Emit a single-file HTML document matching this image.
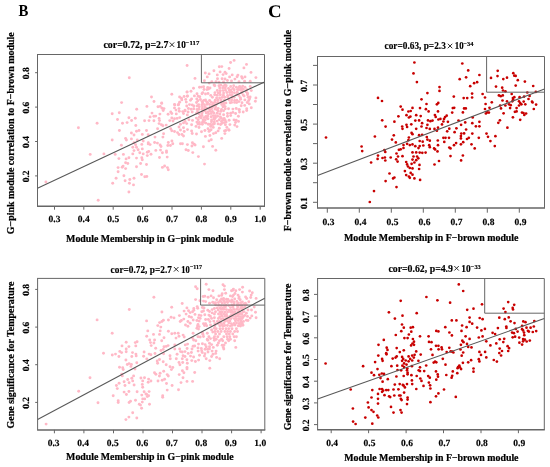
<!DOCTYPE html><html><head><meta charset="utf-8"><style>html,body{margin:0;padding:0;background:#fff;width:550px;height:467px;overflow:hidden}svg{display:block;will-change:transform}text{font-family:"Liberation Serif", serif;font-weight:bold;fill:#000}</style></head><body>
<svg xmlns="http://www.w3.org/2000/svg" width="550" height="467" viewBox="0 0 550 467">
<rect width="550" height="467" fill="#fff"/>
<text transform="translate(18.5 16.2) scale(0.87 1)" font-size="17">B</text>
<text text-rendering="geometricPrecision" transform="translate(267.9 16.6) scale(1.06 1)" font-size="17.8">C</text>
<g fill="#ffb8c6"><circle cx="129.3" cy="77.7" r="1.45"/><circle cx="121.6" cy="102.6" r="1.45"/><circle cx="136.7" cy="109.2" r="1.45"/><circle cx="112.2" cy="113.7" r="1.45"/><circle cx="119.3" cy="112.8" r="1.45"/><circle cx="117.5" cy="119.5" r="1.45"/><circle cx="128.9" cy="117.7" r="1.45"/><circle cx="131.6" cy="120.5" r="1.45"/><circle cx="135.3" cy="118.3" r="1.45"/><circle cx="122.5" cy="123.2" r="1.45"/><circle cx="127.1" cy="122.6" r="1.45"/><circle cx="135.8" cy="125.5" r="1.45"/><circle cx="97.1" cy="123.2" r="1.45"/><circle cx="78.4" cy="127.7" r="1.45"/><circle cx="90.2" cy="154.4" r="1.45"/><circle cx="45.9" cy="182.0" r="1.45"/><circle cx="98.2" cy="200.2" r="1.45"/><circle cx="119.4" cy="130.5" r="1.45"/><circle cx="131.4" cy="133.0" r="1.45"/><circle cx="134.0" cy="135.0" r="1.45"/><circle cx="136.5" cy="131.3" r="1.45"/><circle cx="139.0" cy="130.5" r="1.45"/><circle cx="142.3" cy="134.4" r="1.45"/><circle cx="146.5" cy="130.5" r="1.45"/><circle cx="148.2" cy="134.7" r="1.45"/><circle cx="112.2" cy="140.0" r="1.45"/><circle cx="125.6" cy="138.4" r="1.45"/><circle cx="126.4" cy="140.0" r="1.45"/><circle cx="131.4" cy="138.9" r="1.45"/><circle cx="137.3" cy="140.0" r="1.45"/><circle cx="143.2" cy="141.0" r="1.45"/><circle cx="121.4" cy="145.2" r="1.45"/><circle cx="134.0" cy="142.7" r="1.45"/><circle cx="135.6" cy="144.7" r="1.45"/><circle cx="141.8" cy="144.4" r="1.45"/><circle cx="148.2" cy="143.9" r="1.45"/><circle cx="132.8" cy="147.2" r="1.45"/><circle cx="136.5" cy="147.2" r="1.45"/><circle cx="134.0" cy="150.6" r="1.45"/><circle cx="138.1" cy="149.7" r="1.45"/><circle cx="142.3" cy="148.9" r="1.45"/><circle cx="103.9" cy="153.9" r="1.45"/><circle cx="115.2" cy="154.4" r="1.45"/><circle cx="123.4" cy="154.4" r="1.45"/><circle cx="132.8" cy="153.9" r="1.45"/><circle cx="139.8" cy="152.7" r="1.45"/><circle cx="143.2" cy="153.9" r="1.45"/><circle cx="147.3" cy="152.2" r="1.45"/><circle cx="118.9" cy="158.6" r="1.45"/><circle cx="126.1" cy="158.9" r="1.45"/><circle cx="128.9" cy="157.8" r="1.45"/><circle cx="136.5" cy="158.1" r="1.45"/><circle cx="141.8" cy="157.8" r="1.45"/><circle cx="142.3" cy="159.8" r="1.45"/><circle cx="147.3" cy="155.6" r="1.45"/><circle cx="125.6" cy="162.8" r="1.45"/><circle cx="127.8" cy="163.5" r="1.45"/><circle cx="140.6" cy="163.5" r="1.45"/><circle cx="146.5" cy="164.5" r="1.45"/><circle cx="118.1" cy="167.6" r="1.45"/><circle cx="122.2" cy="167.3" r="1.45"/><circle cx="123.1" cy="166.1" r="1.45"/><circle cx="125.6" cy="168.6" r="1.45"/><circle cx="136.5" cy="166.8" r="1.45"/><circle cx="118.1" cy="171.8" r="1.45"/><circle cx="123.9" cy="175.7" r="1.45"/><circle cx="141.5" cy="174.5" r="1.45"/><circle cx="144.8" cy="176.8" r="1.45"/><circle cx="146.8" cy="176.5" r="1.45"/><circle cx="116.1" cy="178.2" r="1.45"/><circle cx="129.8" cy="179.5" r="1.45"/><circle cx="134.0" cy="178.2" r="1.45"/><circle cx="125.1" cy="180.7" r="1.45"/><circle cx="112.7" cy="183.2" r="1.45"/><circle cx="129.4" cy="183.2" r="1.45"/><circle cx="133.5" cy="184.9" r="1.45"/><circle cx="128.9" cy="192.0" r="1.45"/><circle cx="187.1" cy="65.5" r="1.45"/><circle cx="151.5" cy="97.0" r="1.45"/><circle cx="154.0" cy="101.5" r="1.45"/><circle cx="161.7" cy="102.9" r="1.45"/><circle cx="171.8" cy="94.3" r="1.45"/><circle cx="179.6" cy="97.0" r="1.45"/><circle cx="181.5" cy="98.3" r="1.45"/><circle cx="184.1" cy="96.5" r="1.45"/><circle cx="187.1" cy="91.9" r="1.45"/><circle cx="187.3" cy="96.2" r="1.45"/><circle cx="181.8" cy="99.9" r="1.45"/><circle cx="185.7" cy="99.4" r="1.45"/><circle cx="179.6" cy="102.3" r="1.45"/><circle cx="186.3" cy="102.1" r="1.45"/><circle cx="174.5" cy="104.4" r="1.45"/><circle cx="178.6" cy="104.4" r="1.45"/><circle cx="195.0" cy="78.4" r="1.45"/><circle cx="205.3" cy="73.0" r="1.45"/><circle cx="209.1" cy="73.9" r="1.45"/><circle cx="207.3" cy="76.9" r="1.45"/><circle cx="213.9" cy="70.7" r="1.45"/><circle cx="219.3" cy="66.8" r="1.45"/><circle cx="221.8" cy="66.6" r="1.45"/><circle cx="220.1" cy="71.9" r="1.45"/><circle cx="225.0" cy="72.2" r="1.45"/><circle cx="217.3" cy="74.9" r="1.45"/><circle cx="223.1" cy="74.6" r="1.45"/><circle cx="217.5" cy="78.8" r="1.45"/><circle cx="222.1" cy="78.8" r="1.45"/><circle cx="225.0" cy="79.0" r="1.45"/><circle cx="204.4" cy="80.8" r="1.45"/><circle cx="211.8" cy="81.6" r="1.45"/><circle cx="216.0" cy="81.6" r="1.45"/><circle cx="219.0" cy="82.1" r="1.45"/><circle cx="223.5" cy="82.0" r="1.45"/><circle cx="209.2" cy="83.1" r="1.45"/><circle cx="214.1" cy="85.0" r="1.45"/><circle cx="214.8" cy="85.7" r="1.45"/><circle cx="193.5" cy="88.3" r="1.45"/><circle cx="199.5" cy="87.2" r="1.45"/><circle cx="201.4" cy="87.1" r="1.45"/><circle cx="203.6" cy="86.8" r="1.45"/><circle cx="207.7" cy="87.4" r="1.45"/><circle cx="210.0" cy="88.0" r="1.45"/><circle cx="208.5" cy="89.1" r="1.45"/><circle cx="219.0" cy="85.7" r="1.45"/><circle cx="220.8" cy="85.3" r="1.45"/><circle cx="223.5" cy="86.1" r="1.45"/><circle cx="225.0" cy="85.0" r="1.45"/><circle cx="219.7" cy="88.0" r="1.45"/><circle cx="222.7" cy="88.0" r="1.45"/><circle cx="225.3" cy="88.0" r="1.45"/><circle cx="204.0" cy="89.5" r="1.45"/><circle cx="230.6" cy="62.5" r="1.45"/><circle cx="234.1" cy="60.4" r="1.45"/><circle cx="246.5" cy="64.4" r="1.45"/><circle cx="229.1" cy="68.5" r="1.45"/><circle cx="243.9" cy="67.9" r="1.45"/><circle cx="251.0" cy="72.4" r="1.45"/><circle cx="226.2" cy="73.6" r="1.45"/><circle cx="232.2" cy="74.9" r="1.45"/><circle cx="237.9" cy="75.1" r="1.45"/><circle cx="229.6" cy="76.9" r="1.45"/><circle cx="237.1" cy="76.7" r="1.45"/><circle cx="241.6" cy="76.7" r="1.45"/><circle cx="245.0" cy="76.9" r="1.45"/><circle cx="255.9" cy="77.6" r="1.45"/><circle cx="242.4" cy="78.2" r="1.45"/><circle cx="234.9" cy="79.1" r="1.45"/><circle cx="227.4" cy="80.5" r="1.45"/><circle cx="231.5" cy="80.9" r="1.45"/><circle cx="239.0" cy="81.8" r="1.45"/><circle cx="244.6" cy="81.2" r="1.45"/><circle cx="250.2" cy="81.2" r="1.45"/><circle cx="226.2" cy="85.7" r="1.45"/><circle cx="230.7" cy="86.5" r="1.45"/><circle cx="233.7" cy="85.7" r="1.45"/><circle cx="236.4" cy="87.2" r="1.45"/><circle cx="239.7" cy="86.5" r="1.45"/><circle cx="242.7" cy="86.1" r="1.45"/><circle cx="245.0" cy="87.2" r="1.45"/><circle cx="250.2" cy="86.5" r="1.45"/><circle cx="228.5" cy="88.4" r="1.45"/><circle cx="233.0" cy="88.4" r="1.45"/><circle cx="241.2" cy="88.7" r="1.45"/><circle cx="146.9" cy="106.4" r="1.45"/><circle cx="158.0" cy="106.7" r="1.45"/><circle cx="160.2" cy="106.4" r="1.45"/><circle cx="162.1" cy="108.2" r="1.45"/><circle cx="164.0" cy="108.6" r="1.45"/><circle cx="163.2" cy="110.5" r="1.45"/><circle cx="161.7" cy="103.4" r="1.45"/><circle cx="174.8" cy="104.9" r="1.45"/><circle cx="178.2" cy="104.9" r="1.45"/><circle cx="174.5" cy="107.9" r="1.45"/><circle cx="179.0" cy="108.6" r="1.45"/><circle cx="176.0" cy="110.1" r="1.45"/><circle cx="179.3" cy="111.2" r="1.45"/><circle cx="182.7" cy="111.6" r="1.45"/><circle cx="185.0" cy="110.1" r="1.45"/><circle cx="170.7" cy="112.0" r="1.45"/><circle cx="171.8" cy="113.5" r="1.45"/><circle cx="168.1" cy="114.2" r="1.45"/><circle cx="176.3" cy="113.9" r="1.45"/><circle cx="183.5" cy="113.5" r="1.45"/><circle cx="152.0" cy="113.1" r="1.45"/><circle cx="159.9" cy="114.1" r="1.45"/><circle cx="150.1" cy="116.9" r="1.45"/><circle cx="153.9" cy="116.3" r="1.45"/><circle cx="155.7" cy="116.1" r="1.45"/><circle cx="159.1" cy="118.4" r="1.45"/><circle cx="171.8" cy="118.0" r="1.45"/><circle cx="174.5" cy="118.7" r="1.45"/><circle cx="177.1" cy="118.4" r="1.45"/><circle cx="179.7" cy="117.6" r="1.45"/><circle cx="149.0" cy="120.6" r="1.45"/><circle cx="153.9" cy="120.8" r="1.45"/><circle cx="159.5" cy="120.6" r="1.45"/><circle cx="169.8" cy="120.6" r="1.45"/><circle cx="159.1" cy="123.6" r="1.45"/><circle cx="161.4" cy="124.7" r="1.45"/><circle cx="162.9" cy="125.8" r="1.45"/><circle cx="166.2" cy="125.1" r="1.45"/><circle cx="173.0" cy="121.0" r="1.45"/><circle cx="180.5" cy="124.3" r="1.45"/><circle cx="183.5" cy="122.9" r="1.45"/><circle cx="179.0" cy="127.0" r="1.45"/><circle cx="183.5" cy="127.7" r="1.45"/><circle cx="157.6" cy="128.8" r="1.45"/><circle cx="170.7" cy="128.8" r="1.45"/><circle cx="171.8" cy="130.7" r="1.45"/><circle cx="174.5" cy="131.5" r="1.45"/><circle cx="177.5" cy="132.6" r="1.45"/><circle cx="180.5" cy="130.0" r="1.45"/><circle cx="184.2" cy="131.5" r="1.45"/><circle cx="163.6" cy="133.7" r="1.45"/><circle cx="179.0" cy="134.5" r="1.45"/><circle cx="182.0" cy="134.5" r="1.45"/><circle cx="183.5" cy="136.0" r="1.45"/><circle cx="155.0" cy="137.1" r="1.45"/><circle cx="162.9" cy="137.1" r="1.45"/><circle cx="144.6" cy="120.8" r="1.45"/><circle cx="148.3" cy="142.8" r="1.45"/><circle cx="150.1" cy="144.6" r="1.45"/><circle cx="154.6" cy="142.5" r="1.45"/><circle cx="157.4" cy="143.1" r="1.45"/><circle cx="160.1" cy="144.9" r="1.45"/><circle cx="161.0" cy="146.5" r="1.45"/><circle cx="168.3" cy="142.5" r="1.45"/><circle cx="171.9" cy="141.0" r="1.45"/><circle cx="172.8" cy="143.7" r="1.45"/><circle cx="167.8" cy="145.5" r="1.45"/><circle cx="170.4" cy="145.5" r="1.45"/><circle cx="180.5" cy="143.7" r="1.45"/><circle cx="182.4" cy="143.7" r="1.45"/><circle cx="187.4" cy="144.6" r="1.45"/><circle cx="192.4" cy="142.8" r="1.45"/><circle cx="194.2" cy="144.2" r="1.45"/><circle cx="191.9" cy="146.0" r="1.45"/><circle cx="195.1" cy="145.1" r="1.45"/><circle cx="148.7" cy="151.5" r="1.45"/><circle cx="155.8" cy="150.4" r="1.45"/><circle cx="160.5" cy="150.1" r="1.45"/><circle cx="162.4" cy="152.8" r="1.45"/><circle cx="166.5" cy="151.0" r="1.45"/><circle cx="166.5" cy="152.4" r="1.45"/><circle cx="186.0" cy="149.8" r="1.45"/><circle cx="188.3" cy="150.5" r="1.45"/><circle cx="192.8" cy="152.6" r="1.45"/><circle cx="151.0" cy="154.2" r="1.45"/><circle cx="159.5" cy="157.5" r="1.45"/><circle cx="167.2" cy="157.1" r="1.45"/><circle cx="162.4" cy="167.4" r="1.45"/><circle cx="164.6" cy="166.0" r="1.45"/><circle cx="167.4" cy="167.6" r="1.45"/><circle cx="168.3" cy="169.8" r="1.45"/><circle cx="201.5" cy="131.8" r="1.45"/><circle cx="204.9" cy="130.5" r="1.45"/><circle cx="209.0" cy="131.4" r="1.45"/><circle cx="209.9" cy="130.5" r="1.45"/><circle cx="218.1" cy="130.9" r="1.45"/><circle cx="224.5" cy="130.9" r="1.45"/><circle cx="225.8" cy="130.5" r="1.45"/><circle cx="229.0" cy="130.3" r="1.45"/><circle cx="213.5" cy="133.6" r="1.45"/><circle cx="215.8" cy="132.7" r="1.45"/><circle cx="224.9" cy="133.6" r="1.45"/><circle cx="205.4" cy="136.4" r="1.45"/><circle cx="209.9" cy="135.5" r="1.45"/><circle cx="221.7" cy="138.4" r="1.45"/><circle cx="209.0" cy="140.9" r="1.45"/><circle cx="211.3" cy="139.8" r="1.45"/><circle cx="203.4" cy="146.8" r="1.45"/><circle cx="212.6" cy="146.4" r="1.45"/><circle cx="215.8" cy="150.2" r="1.45"/><circle cx="198.4" cy="156.6" r="1.45"/><circle cx="204.5" cy="164.1" r="1.45"/><circle cx="226.1" cy="122.1" r="1.45"/><circle cx="229.1" cy="120.2" r="1.45"/><circle cx="229.9" cy="124.6" r="1.45"/><circle cx="234.0" cy="119.9" r="1.45"/><circle cx="236.2" cy="120.2" r="1.45"/><circle cx="238.5" cy="121.4" r="1.45"/><circle cx="235.5" cy="122.5" r="1.45"/><circle cx="234.7" cy="125.1" r="1.45"/><circle cx="237.0" cy="126.6" r="1.45"/><circle cx="226.9" cy="127.4" r="1.45"/><circle cx="228.7" cy="129.6" r="1.45"/><circle cx="187.0" cy="92.1" r="1.45"/><circle cx="191.0" cy="91.3" r="1.45"/><circle cx="206.9" cy="89.6" r="1.45"/><circle cx="197.0" cy="93.7" r="1.45"/><circle cx="202.8" cy="92.6" r="1.45"/><circle cx="202.0" cy="93.7" r="1.45"/><circle cx="205.5" cy="94.0" r="1.45"/><circle cx="208.0" cy="93.5" r="1.45"/><circle cx="187.5" cy="95.9" r="1.45"/><circle cx="194.4" cy="95.9" r="1.45"/><circle cx="198.2" cy="96.2" r="1.45"/><circle cx="199.8" cy="96.7" r="1.45"/><circle cx="210.7" cy="95.4" r="1.45"/><circle cx="212.4" cy="97.3" r="1.45"/><circle cx="191.6" cy="98.9" r="1.45"/><circle cx="190.5" cy="100.3" r="1.45"/><circle cx="196.8" cy="98.9" r="1.45"/><circle cx="197.9" cy="100.8" r="1.45"/><circle cx="200.4" cy="99.5" r="1.45"/><circle cx="202.0" cy="101.6" r="1.45"/><circle cx="205.5" cy="100.0" r="1.45"/><circle cx="206.4" cy="101.6" r="1.45"/><circle cx="209.6" cy="100.5" r="1.45"/><circle cx="211.3" cy="102.2" r="1.45"/><circle cx="196.5" cy="102.5" r="1.45"/><circle cx="186.7" cy="106.0" r="1.45"/><circle cx="189.5" cy="104.6" r="1.45"/><circle cx="192.2" cy="104.9" r="1.45"/><circle cx="193.8" cy="106.0" r="1.45"/><circle cx="197.1" cy="106.0" r="1.45"/><circle cx="199.3" cy="106.8" r="1.45"/><circle cx="206.9" cy="104.4" r="1.45"/><circle cx="209.6" cy="104.4" r="1.45"/><circle cx="212.4" cy="104.9" r="1.45"/><circle cx="188.4" cy="108.5" r="1.45"/><circle cx="191.1" cy="109.3" r="1.45"/><circle cx="193.8" cy="108.7" r="1.45"/><circle cx="197.1" cy="109.5" r="1.45"/><circle cx="202.0" cy="109.3" r="1.45"/><circle cx="206.9" cy="108.2" r="1.45"/><circle cx="209.6" cy="109.3" r="1.45"/><circle cx="185.1" cy="110.9" r="1.45"/><circle cx="188.1" cy="112.0" r="1.45"/><circle cx="192.2" cy="112.0" r="1.45"/><circle cx="197.6" cy="112.0" r="1.45"/><circle cx="202.5" cy="111.7" r="1.45"/><circle cx="208.0" cy="112.0" r="1.45"/><circle cx="212.4" cy="111.5" r="1.45"/><circle cx="239.2" cy="87.2" r="1.45"/><circle cx="241.5" cy="87.7" r="1.45"/><circle cx="238.3" cy="89.5" r="1.45"/><circle cx="240.3" cy="89.8" r="1.45"/><circle cx="243.2" cy="89.2" r="1.45"/><circle cx="251.3" cy="90.6" r="1.45"/><circle cx="247.5" cy="93.2" r="1.45"/><circle cx="247.5" cy="94.7" r="1.45"/><circle cx="243.2" cy="95.0" r="1.45"/><circle cx="244.1" cy="96.1" r="1.45"/><circle cx="238.9" cy="95.5" r="1.45"/><circle cx="240.3" cy="97.6" r="1.45"/><circle cx="240.6" cy="99.3" r="1.45"/><circle cx="244.9" cy="99.9" r="1.45"/><circle cx="248.1" cy="97.3" r="1.45"/><circle cx="250.1" cy="97.0" r="1.45"/><circle cx="249.6" cy="98.7" r="1.45"/><circle cx="248.7" cy="100.5" r="1.45"/><circle cx="255.9" cy="97.9" r="1.45"/><circle cx="255.4" cy="101.2" r="1.45"/><circle cx="238.9" cy="101.6" r="1.45"/><circle cx="242.0" cy="102.8" r="1.45"/><circle cx="247.3" cy="102.5" r="1.45"/><circle cx="249.3" cy="103.9" r="1.45"/><circle cx="241.2" cy="105.7" r="1.45"/><circle cx="244.7" cy="105.4" r="1.45"/><circle cx="251.3" cy="107.7" r="1.45"/><circle cx="239.4" cy="109.7" r="1.45"/><circle cx="246.7" cy="108.8" r="1.45"/><circle cx="246.7" cy="110.6" r="1.45"/><circle cx="243.2" cy="112.0" r="1.45"/><circle cx="211.6" cy="108.8" r="1.45"/><circle cx="214.9" cy="109.1" r="1.45"/><circle cx="218.2" cy="108.5" r="1.45"/><circle cx="221.5" cy="109.4" r="1.45"/><circle cx="225.3" cy="108.8" r="1.45"/><circle cx="228.5" cy="108.8" r="1.45"/><circle cx="232.9" cy="109.1" r="1.45"/><circle cx="236.2" cy="108.5" r="1.45"/><circle cx="238.9" cy="109.6" r="1.45"/><circle cx="223.6" cy="110.7" r="1.45"/><circle cx="220.9" cy="111.3" r="1.45"/><circle cx="211.1" cy="113.5" r="1.45"/><circle cx="213.8" cy="112.9" r="1.45"/><circle cx="217.1" cy="113.2" r="1.45"/><circle cx="219.8" cy="114.0" r="1.45"/><circle cx="223.6" cy="114.8" r="1.45"/><circle cx="227.5" cy="113.5" r="1.45"/><circle cx="230.7" cy="113.2" r="1.45"/><circle cx="232.9" cy="112.4" r="1.45"/><circle cx="235.6" cy="113.5" r="1.45"/><circle cx="239.5" cy="112.1" r="1.45"/><circle cx="211.1" cy="116.7" r="1.45"/><circle cx="213.3" cy="115.6" r="1.45"/><circle cx="215.5" cy="117.8" r="1.45"/><circle cx="217.6" cy="116.2" r="1.45"/><circle cx="220.4" cy="117.0" r="1.45"/><circle cx="224.2" cy="118.4" r="1.45"/><circle cx="227.5" cy="116.2" r="1.45"/><circle cx="230.7" cy="115.6" r="1.45"/><circle cx="238.4" cy="116.2" r="1.45"/><circle cx="211.6" cy="120.0" r="1.45"/><circle cx="214.4" cy="119.5" r="1.45"/><circle cx="217.1" cy="121.1" r="1.45"/><circle cx="219.3" cy="119.7" r="1.45"/><circle cx="221.5" cy="121.4" r="1.45"/><circle cx="214.4" cy="123.8" r="1.45"/><circle cx="222.0" cy="123.3" r="1.45"/><circle cx="211.1" cy="126.0" r="1.45"/><circle cx="213.3" cy="127.4" r="1.45"/><circle cx="219.3" cy="128.2" r="1.45"/><circle cx="211.1" cy="129.8" r="1.45"/><circle cx="187.3" cy="114.9" r="1.45"/><circle cx="202.0" cy="115.5" r="1.45"/><circle cx="199.3" cy="117.1" r="1.45"/><circle cx="205.8" cy="116.5" r="1.45"/><circle cx="208.0" cy="118.7" r="1.45"/><circle cx="188.9" cy="119.8" r="1.45"/><circle cx="192.5" cy="120.4" r="1.45"/><circle cx="198.2" cy="119.8" r="1.45"/><circle cx="185.1" cy="121.5" r="1.45"/><circle cx="186.7" cy="123.6" r="1.45"/><circle cx="199.3" cy="122.5" r="1.45"/><circle cx="202.5" cy="122.3" r="1.45"/><circle cx="205.8" cy="123.1" r="1.45"/><circle cx="208.3" cy="124.2" r="1.45"/><circle cx="191.6" cy="124.7" r="1.45"/><circle cx="199.5" cy="124.2" r="1.45"/><circle cx="196.0" cy="126.4" r="1.45"/><circle cx="199.0" cy="127.5" r="1.45"/><circle cx="210.7" cy="126.4" r="1.45"/><circle cx="187.5" cy="129.6" r="1.45"/><circle cx="191.6" cy="131.0" r="1.45"/><circle cx="208.0" cy="128.8" r="1.45"/><circle cx="192.2" cy="133.5" r="1.45"/><circle cx="196.5" cy="134.0" r="1.45"/><circle cx="217.3" cy="90.5" r="1.45"/><circle cx="220.3" cy="90.7" r="1.45"/><circle cx="223.2" cy="90.6" r="1.45"/><circle cx="225.5" cy="90.3" r="1.45"/><circle cx="229.3" cy="90.4" r="1.45"/><circle cx="231.0" cy="90.0" r="1.45"/><circle cx="215.0" cy="92.6" r="1.45"/><circle cx="218.3" cy="92.9" r="1.45"/><circle cx="219.7" cy="92.6" r="1.45"/><circle cx="223.6" cy="93.1" r="1.45"/><circle cx="226.9" cy="92.5" r="1.45"/><circle cx="229.8" cy="92.5" r="1.45"/><circle cx="214.7" cy="94.7" r="1.45"/><circle cx="217.2" cy="95.3" r="1.45"/><circle cx="220.3" cy="94.8" r="1.45"/><circle cx="223.4" cy="95.3" r="1.45"/><circle cx="227.6" cy="95.4" r="1.45"/><circle cx="230.3" cy="95.1" r="1.45"/><circle cx="216.6" cy="98.0" r="1.45"/><circle cx="219.6" cy="98.0" r="1.45"/><circle cx="222.2" cy="97.4" r="1.45"/><circle cx="224.7" cy="97.3" r="1.45"/><circle cx="227.8" cy="97.3" r="1.45"/><circle cx="215.2" cy="100.2" r="1.45"/><circle cx="217.9" cy="100.2" r="1.45"/><circle cx="221.1" cy="99.9" r="1.45"/><circle cx="224.4" cy="100.1" r="1.45"/><circle cx="229.1" cy="100.1" r="1.45"/><circle cx="214.8" cy="102.3" r="1.45"/><circle cx="220.9" cy="102.3" r="1.45"/><circle cx="223.6" cy="103.0" r="1.45"/><circle cx="225.9" cy="102.9" r="1.45"/><circle cx="230.2" cy="102.8" r="1.45"/><circle cx="231.9" cy="92.2" r="1.45"/><circle cx="232.1" cy="94.7" r="1.45"/><circle cx="232.0" cy="97.4" r="1.45"/><circle cx="231.6" cy="100.0" r="1.45"/><circle cx="231.6" cy="102.4" r="1.45"/><circle cx="234.2" cy="89.7" r="1.45"/><circle cx="234.4" cy="92.8" r="1.45"/><circle cx="234.2" cy="97.3" r="1.45"/><circle cx="234.6" cy="100.4" r="1.45"/><circle cx="234.6" cy="102.4" r="1.45"/><circle cx="237.4" cy="89.6" r="1.45"/><circle cx="237.3" cy="92.3" r="1.45"/><circle cx="236.7" cy="94.7" r="1.45"/><circle cx="236.8" cy="100.3" r="1.45"/><circle cx="236.7" cy="102.6" r="1.45"/><circle cx="242.1" cy="91.4" r="1.45"/><circle cx="241.5" cy="92.9" r="1.45"/><circle cx="246.9" cy="89.6" r="1.45"/><circle cx="246.1" cy="91.7" r="1.45"/><circle cx="203.7" cy="100.5" r="1.45"/><circle cx="202.7" cy="103.0" r="1.45"/><circle cx="207.7" cy="102.8" r="1.45"/><circle cx="213.2" cy="103.1" r="1.45"/><circle cx="217.6" cy="102.4" r="1.45"/><circle cx="198.6" cy="104.6" r="1.45"/><circle cx="201.9" cy="104.8" r="1.45"/><circle cx="204.4" cy="104.7" r="1.45"/><circle cx="214.4" cy="105.1" r="1.45"/><circle cx="216.2" cy="104.6" r="1.45"/><circle cx="221.8" cy="104.5" r="1.45"/><circle cx="224.1" cy="104.8" r="1.45"/><circle cx="202.4" cy="106.9" r="1.45"/><circle cx="205.0" cy="106.8" r="1.45"/><circle cx="210.1" cy="107.3" r="1.45"/><circle cx="212.5" cy="106.9" r="1.45"/><circle cx="215.6" cy="107.1" r="1.45"/><circle cx="223.0" cy="106.8" r="1.45"/><circle cx="225.1" cy="106.6" r="1.45"/><circle cx="198.8" cy="109.3" r="1.45"/><circle cx="204.4" cy="109.1" r="1.45"/><circle cx="216.7" cy="109.6" r="1.45"/><circle cx="205.3" cy="111.1" r="1.45"/><circle cx="209.9" cy="111.1" r="1.45"/><circle cx="218.1" cy="111.1" r="1.45"/><circle cx="196.6" cy="113.2" r="1.45"/><circle cx="198.9" cy="113.8" r="1.45"/><circle cx="201.9" cy="113.6" r="1.45"/><circle cx="206.2" cy="113.1" r="1.45"/><circle cx="208.6" cy="113.9" r="1.45"/><circle cx="200.5" cy="116.0" r="1.45"/><circle cx="207.7" cy="115.9" r="1.45"/><circle cx="215.3" cy="115.8" r="1.45"/><circle cx="196.4" cy="118.1" r="1.45"/><circle cx="201.1" cy="117.9" r="1.45"/><circle cx="204.0" cy="117.6" r="1.45"/><circle cx="206.7" cy="117.8" r="1.45"/><circle cx="213.8" cy="118.0" r="1.45"/><circle cx="221.4" cy="118.2" r="1.45"/><circle cx="203.1" cy="119.9" r="1.45"/><circle cx="205.3" cy="119.8" r="1.45"/><circle cx="222.9" cy="120.0" r="1.45"/><circle cx="225.1" cy="120.3" r="1.45"/><circle cx="196.9" cy="122.1" r="1.45"/><circle cx="204.2" cy="122.2" r="1.45"/><circle cx="211.5" cy="121.7" r="1.45"/><circle cx="214.3" cy="121.9" r="1.45"/><circle cx="224.3" cy="122.6" r="1.45"/><circle cx="197.9" cy="124.0" r="1.45"/><circle cx="202.3" cy="124.3" r="1.45"/><circle cx="210.4" cy="124.3" r="1.45"/><circle cx="212.9" cy="124.5" r="1.45"/><circle cx="218.1" cy="123.9" r="1.45"/><circle cx="220.6" cy="124.5" r="1.45"/><circle cx="225.4" cy="124.7" r="1.45"/></g>
<path d="M201.4 54.5V82.8H264.5" fill="none" stroke="#666" stroke-width="1"/>
<line x1="37.5" y1="188.2" x2="264.5" y2="82.0" stroke="#585858" stroke-width="1.1"/>
<path d="M37.50 206.20V54.50M37.00 54.50H264.50V206.20" fill="none" stroke="#666" stroke-width="1"/>
<path d="M37.00 206.20H265.00" fill="none" stroke="#666" stroke-width="1.5"/>
<path d="M54.5 206.2v3.5M83.8 206.2v3.5M113.2 206.2v3.5M142.6 206.2v3.5M172.0 206.2v3.5M201.4 206.2v3.5M230.8 206.2v3.5M260.2 206.2v3.5M37.5 175.9h-2.4M37.5 141.5h-2.4M37.5 107.1h-2.4M37.5 72.7h-2.4" stroke="#666" stroke-width="1" fill="none"/>
<text x="54.5" y="222.0" font-size="9.5" text-rendering="geometricPrecision" stroke="#000" stroke-width="0.15" text-anchor="middle">0.3</text>
<text x="83.8" y="222.0" font-size="9.5" text-rendering="geometricPrecision" stroke="#000" stroke-width="0.15" text-anchor="middle">0.4</text>
<text x="113.2" y="222.0" font-size="9.5" text-rendering="geometricPrecision" stroke="#000" stroke-width="0.15" text-anchor="middle">0.5</text>
<text x="142.6" y="222.0" font-size="9.5" text-rendering="geometricPrecision" stroke="#000" stroke-width="0.15" text-anchor="middle">0.6</text>
<text x="172.0" y="222.0" font-size="9.5" text-rendering="geometricPrecision" stroke="#000" stroke-width="0.15" text-anchor="middle">0.7</text>
<text x="201.4" y="222.0" font-size="9.5" text-rendering="geometricPrecision" stroke="#000" stroke-width="0.15" text-anchor="middle">0.8</text>
<text x="230.8" y="222.0" font-size="9.5" text-rendering="geometricPrecision" stroke="#000" stroke-width="0.15" text-anchor="middle">0.9</text>
<text x="260.2" y="222.0" font-size="9.5" text-rendering="geometricPrecision" stroke="#000" stroke-width="0.15" text-anchor="middle">1.0</text>
<text transform="translate(29.0 176.4) rotate(-90)" font-size="9.5" text-rendering="geometricPrecision" stroke="#000" stroke-width="0.15" text-anchor="middle">0.2</text>
<text transform="translate(29.0 142.0) rotate(-90)" font-size="9.5" text-rendering="geometricPrecision" stroke="#000" stroke-width="0.15" text-anchor="middle">0.4</text>
<text transform="translate(29.0 107.6) rotate(-90)" font-size="9.5" text-rendering="geometricPrecision" stroke="#000" stroke-width="0.15" text-anchor="middle">0.6</text>
<text transform="translate(29.0 73.2) rotate(-90)" font-size="9.5" text-rendering="geometricPrecision" stroke="#000" stroke-width="0.15" text-anchor="middle">0.8</text>
<text x="103.50" y="48.10" font-size="10" stroke="#000" stroke-width="0.15" textLength="64.90" lengthAdjust="spacingAndGlyphs">cor=0.72, p=2.7</text>
<path d="M169.70 42.45L174.20 46.95M169.70 46.95L174.20 42.45" stroke="#222" stroke-width="0.95" fill="none"/>
<text x="176.60" y="48.10" font-size="9.8" stroke="#000" stroke-width="0.15" textLength="9.10" lengthAdjust="spacingAndGlyphs">10</text>
<text x="185.60" y="45.00" font-size="6.3" stroke="#000" stroke-width="0.15" textLength="13.70" lengthAdjust="spacingAndGlyphs">−117</text>
<text x="66.1" y="241.6" font-size="10" stroke="#000" stroke-width="0.22" textLength="167.5" lengthAdjust="spacingAndGlyphs">Module Membership in G−pink module</text>
<text transform="translate(14.2 234.2) rotate(-90)" font-size="10" stroke="#000" stroke-width="0.22" textLength="201.9" lengthAdjust="spacingAndGlyphs">G−pink module correlation to F−brown module</text>
<g fill="#c80000"><circle cx="414.4" cy="62.5" r="1.35"/><circle cx="413.5" cy="73.4" r="1.35"/><circle cx="416.9" cy="82.1" r="1.35"/><circle cx="378.0" cy="97.9" r="1.35"/><circle cx="382.0" cy="101.0" r="1.35"/><circle cx="400.7" cy="106.6" r="1.35"/><circle cx="402.5" cy="109.7" r="1.35"/><circle cx="412.5" cy="107.9" r="1.35"/><circle cx="408.4" cy="111.5" r="1.35"/><circle cx="410.7" cy="111.0" r="1.35"/><circle cx="398.4" cy="116.3" r="1.35"/><circle cx="406.5" cy="115.2" r="1.35"/><circle cx="408.9" cy="117.5" r="1.35"/><circle cx="410.4" cy="116.6" r="1.35"/><circle cx="416.2" cy="115.2" r="1.35"/><circle cx="382.2" cy="120.3" r="1.35"/><circle cx="394.4" cy="121.7" r="1.35"/><circle cx="415.3" cy="120.6" r="1.35"/><circle cx="385.6" cy="126.6" r="1.35"/><circle cx="402.2" cy="126.5" r="1.35"/><circle cx="402.5" cy="128.8" r="1.35"/><circle cx="406.5" cy="124.8" r="1.35"/><circle cx="407.1" cy="127.0" r="1.35"/><circle cx="411.3" cy="124.3" r="1.35"/><circle cx="416.2" cy="128.8" r="1.35"/><circle cx="326.0" cy="137.5" r="1.35"/><circle cx="361.6" cy="146.5" r="1.35"/><circle cx="362.2" cy="151.1" r="1.35"/><circle cx="374.9" cy="136.5" r="1.35"/><circle cx="371.1" cy="162.5" r="1.35"/><circle cx="374.0" cy="191.1" r="1.35"/><circle cx="369.8" cy="202.0" r="1.35"/><circle cx="393.8" cy="135.3" r="1.35"/><circle cx="392.0" cy="139.6" r="1.35"/><circle cx="395.8" cy="142.4" r="1.35"/><circle cx="408.9" cy="137.5" r="1.35"/><circle cx="408.4" cy="140.2" r="1.35"/><circle cx="411.6" cy="132.9" r="1.35"/><circle cx="412.5" cy="134.2" r="1.35"/><circle cx="407.1" cy="143.8" r="1.35"/><circle cx="403.5" cy="145.1" r="1.35"/><circle cx="409.8" cy="145.1" r="1.35"/><circle cx="412.5" cy="144.4" r="1.35"/><circle cx="415.3" cy="146.2" r="1.35"/><circle cx="403.5" cy="148.0" r="1.35"/><circle cx="400.7" cy="149.3" r="1.35"/><circle cx="398.9" cy="149.8" r="1.35"/><circle cx="384.4" cy="150.2" r="1.35"/><circle cx="385.3" cy="152.0" r="1.35"/><circle cx="378.0" cy="155.6" r="1.35"/><circle cx="377.6" cy="158.9" r="1.35"/><circle cx="382.5" cy="158.0" r="1.35"/><circle cx="384.9" cy="157.5" r="1.35"/><circle cx="385.3" cy="160.5" r="1.35"/><circle cx="390.7" cy="157.5" r="1.35"/><circle cx="396.5" cy="153.5" r="1.35"/><circle cx="398.0" cy="156.5" r="1.35"/><circle cx="396.2" cy="159.3" r="1.35"/><circle cx="397.6" cy="161.6" r="1.35"/><circle cx="402.5" cy="156.2" r="1.35"/><circle cx="412.5" cy="152.4" r="1.35"/><circle cx="416.2" cy="152.4" r="1.35"/><circle cx="413.5" cy="156.5" r="1.35"/><circle cx="417.1" cy="156.5" r="1.35"/><circle cx="412.5" cy="159.6" r="1.35"/><circle cx="416.2" cy="160.2" r="1.35"/><circle cx="406.2" cy="162.0" r="1.35"/><circle cx="407.1" cy="164.4" r="1.35"/><circle cx="411.6" cy="163.8" r="1.35"/><circle cx="414.4" cy="162.5" r="1.35"/><circle cx="408.0" cy="166.5" r="1.35"/><circle cx="409.8" cy="168.0" r="1.35"/><circle cx="412.5" cy="168.4" r="1.35"/><circle cx="404.9" cy="171.1" r="1.35"/><circle cx="410.7" cy="172.9" r="1.35"/><circle cx="412.5" cy="174.7" r="1.35"/><circle cx="406.2" cy="175.1" r="1.35"/><circle cx="408.9" cy="176.5" r="1.35"/><circle cx="409.8" cy="177.8" r="1.35"/><circle cx="414.4" cy="178.4" r="1.35"/><circle cx="389.5" cy="173.5" r="1.35"/><circle cx="394.4" cy="177.5" r="1.35"/><circle cx="393.1" cy="178.4" r="1.35"/><circle cx="385.6" cy="181.1" r="1.35"/><circle cx="396.5" cy="187.1" r="1.35"/><circle cx="462.3" cy="63.5" r="1.35"/><circle cx="468.2" cy="70.4" r="1.35"/><circle cx="479.4" cy="75.0" r="1.35"/><circle cx="459.7" cy="79.2" r="1.35"/><circle cx="466.1" cy="77.3" r="1.35"/><circle cx="474.1" cy="83.2" r="1.35"/><circle cx="477.1" cy="82.2" r="1.35"/><circle cx="470.2" cy="86.2" r="1.35"/><circle cx="439.5" cy="87.1" r="1.35"/><circle cx="439.5" cy="90.9" r="1.35"/><circle cx="427.4" cy="93.1" r="1.35"/><circle cx="421.5" cy="99.3" r="1.35"/><circle cx="426.5" cy="104.0" r="1.35"/><circle cx="436.9" cy="104.3" r="1.35"/><circle cx="438.3" cy="102.9" r="1.35"/><circle cx="453.8" cy="96.6" r="1.35"/><circle cx="463.7" cy="98.1" r="1.35"/><circle cx="467.2" cy="98.1" r="1.35"/><circle cx="472.1" cy="93.6" r="1.35"/><circle cx="472.1" cy="97.5" r="1.35"/><circle cx="420.0" cy="108.1" r="1.35"/><circle cx="425.9" cy="109.2" r="1.35"/><circle cx="452.8" cy="108.1" r="1.35"/><circle cx="454.2" cy="107.8" r="1.35"/><circle cx="464.1" cy="108.4" r="1.35"/><circle cx="465.8" cy="108.4" r="1.35"/><circle cx="497.7" cy="70.8" r="1.35"/><circle cx="497.5" cy="76.1" r="1.35"/><circle cx="491.0" cy="77.9" r="1.35"/><circle cx="503.3" cy="79.1" r="1.35"/><circle cx="507.0" cy="77.7" r="1.35"/><circle cx="513.3" cy="73.2" r="1.35"/><circle cx="514.3" cy="75.7" r="1.35"/><circle cx="515.7" cy="75.9" r="1.35"/><circle cx="517.8" cy="80.2" r="1.35"/><circle cx="524.9" cy="81.6" r="1.35"/><circle cx="515.7" cy="85.6" r="1.35"/><circle cx="496.0" cy="86.6" r="1.35"/><circle cx="502.2" cy="87.7" r="1.35"/><circle cx="503.0" cy="90.5" r="1.35"/><circle cx="505.4" cy="91.3" r="1.35"/><circle cx="533.2" cy="86.0" r="1.35"/><circle cx="527.3" cy="92.5" r="1.35"/><circle cx="535.8" cy="91.9" r="1.35"/><circle cx="482.6" cy="94.0" r="1.35"/><circle cx="485.0" cy="97.5" r="1.35"/><circle cx="498.9" cy="95.4" r="1.35"/><circle cx="500.7" cy="96.2" r="1.35"/><circle cx="502.8" cy="95.4" r="1.35"/><circle cx="511.7" cy="94.0" r="1.35"/><circle cx="512.9" cy="98.1" r="1.35"/><circle cx="514.3" cy="97.2" r="1.35"/><circle cx="513.1" cy="99.6" r="1.35"/><circle cx="519.6" cy="97.2" r="1.35"/><circle cx="524.1" cy="96.6" r="1.35"/><circle cx="529.6" cy="96.0" r="1.35"/><circle cx="528.5" cy="99.0" r="1.35"/><circle cx="491.8" cy="102.3" r="1.35"/><circle cx="502.5" cy="100.5" r="1.35"/><circle cx="507.0" cy="101.3" r="1.35"/><circle cx="512.3" cy="101.3" r="1.35"/><circle cx="519.0" cy="101.3" r="1.35"/><circle cx="520.2" cy="103.1" r="1.35"/><circle cx="523.7" cy="101.6" r="1.35"/><circle cx="521.4" cy="104.3" r="1.35"/><circle cx="525.3" cy="104.3" r="1.35"/><circle cx="532.0" cy="101.7" r="1.35"/><circle cx="532.6" cy="102.5" r="1.35"/><circle cx="485.6" cy="104.0" r="1.35"/><circle cx="500.1" cy="105.5" r="1.35"/><circle cx="505.4" cy="105.5" r="1.35"/><circle cx="509.0" cy="104.3" r="1.35"/><circle cx="510.7" cy="105.2" r="1.35"/><circle cx="519.0" cy="105.5" r="1.35"/><circle cx="536.1" cy="104.6" r="1.35"/><circle cx="485.0" cy="109.0" r="1.35"/><circle cx="489.5" cy="107.8" r="1.35"/><circle cx="501.0" cy="108.4" r="1.35"/><circle cx="510.1" cy="108.1" r="1.35"/><circle cx="516.6" cy="108.1" r="1.35"/><circle cx="533.8" cy="109.0" r="1.35"/><circle cx="428.6" cy="111.4" r="1.35"/><circle cx="438.0" cy="111.4" r="1.35"/><circle cx="452.2" cy="112.6" r="1.35"/><circle cx="462.9" cy="112.4" r="1.35"/><circle cx="420.7" cy="116.1" r="1.35"/><circle cx="434.9" cy="115.0" r="1.35"/><circle cx="435.7" cy="116.9" r="1.35"/><circle cx="446.7" cy="115.7" r="1.35"/><circle cx="445.1" cy="117.1" r="1.35"/><circle cx="419.1" cy="120.4" r="1.35"/><circle cx="428.0" cy="120.4" r="1.35"/><circle cx="430.4" cy="121.2" r="1.35"/><circle cx="432.5" cy="120.6" r="1.35"/><circle cx="438.4" cy="119.5" r="1.35"/><circle cx="440.4" cy="118.9" r="1.35"/><circle cx="444.0" cy="118.9" r="1.35"/><circle cx="443.4" cy="121.5" r="1.35"/><circle cx="447.9" cy="121.8" r="1.35"/><circle cx="458.5" cy="120.6" r="1.35"/><circle cx="472.7" cy="117.4" r="1.35"/><circle cx="479.4" cy="121.8" r="1.35"/><circle cx="465.2" cy="122.4" r="1.35"/><circle cx="472.3" cy="123.2" r="1.35"/><circle cx="422.1" cy="123.2" r="1.35"/><circle cx="427.4" cy="124.8" r="1.35"/><circle cx="442.0" cy="124.4" r="1.35"/><circle cx="461.1" cy="124.8" r="1.35"/><circle cx="475.9" cy="126.3" r="1.35"/><circle cx="479.4" cy="126.3" r="1.35"/><circle cx="421.5" cy="126.5" r="1.35"/><circle cx="426.5" cy="128.0" r="1.35"/><circle cx="429.8" cy="128.9" r="1.35"/><circle cx="434.5" cy="128.9" r="1.35"/><circle cx="436.9" cy="130.7" r="1.35"/><circle cx="438.0" cy="127.7" r="1.35"/><circle cx="449.3" cy="128.7" r="1.35"/><circle cx="456.4" cy="128.3" r="1.35"/><circle cx="447.2" cy="131.3" r="1.35"/><circle cx="454.6" cy="132.2" r="1.35"/><circle cx="466.1" cy="129.5" r="1.35"/><circle cx="472.3" cy="133.6" r="1.35"/><circle cx="461.3" cy="133.6" r="1.35"/><circle cx="464.1" cy="133.4" r="1.35"/><circle cx="419.1" cy="135.2" r="1.35"/><circle cx="422.1" cy="134.8" r="1.35"/><circle cx="426.8" cy="137.0" r="1.35"/><circle cx="443.4" cy="137.8" r="1.35"/><circle cx="445.5" cy="137.8" r="1.35"/><circle cx="449.0" cy="137.8" r="1.35"/><circle cx="460.9" cy="136.0" r="1.35"/><circle cx="460.9" cy="138.4" r="1.35"/><circle cx="467.0" cy="139.0" r="1.35"/><circle cx="468.8" cy="137.8" r="1.35"/><circle cx="478.8" cy="137.8" r="1.35"/><circle cx="427.4" cy="139.6" r="1.35"/><circle cx="429.8" cy="140.7" r="1.35"/><circle cx="419.7" cy="141.0" r="1.35"/><circle cx="422.7" cy="141.7" r="1.35"/><circle cx="437.8" cy="140.5" r="1.35"/><circle cx="444.3" cy="141.9" r="1.35"/><circle cx="463.2" cy="142.2" r="1.35"/><circle cx="460.9" cy="144.3" r="1.35"/><circle cx="456.1" cy="143.1" r="1.35"/><circle cx="454.0" cy="145.2" r="1.35"/><circle cx="471.5" cy="144.3" r="1.35"/><circle cx="419.7" cy="146.1" r="1.35"/><circle cx="423.3" cy="145.5" r="1.35"/><circle cx="429.2" cy="145.2" r="1.35"/><circle cx="429.8" cy="147.2" r="1.35"/><circle cx="438.0" cy="145.2" r="1.35"/><circle cx="418.5" cy="148.1" r="1.35"/><circle cx="434.1" cy="148.4" r="1.35"/><circle cx="435.1" cy="149.4" r="1.35"/><circle cx="449.3" cy="147.6" r="1.35"/><circle cx="450.5" cy="148.4" r="1.35"/><circle cx="474.7" cy="148.4" r="1.35"/><circle cx="437.5" cy="151.4" r="1.35"/><circle cx="419.7" cy="152.6" r="1.35"/><circle cx="422.3" cy="152.8" r="1.35"/><circle cx="425.6" cy="152.6" r="1.35"/><circle cx="450.5" cy="156.1" r="1.35"/><circle cx="462.9" cy="155.5" r="1.35"/><circle cx="485.9" cy="113.5" r="1.35"/><circle cx="488.9" cy="112.6" r="1.35"/><circle cx="487.1" cy="112.4" r="1.35"/><circle cx="503.6" cy="113.3" r="1.35"/><circle cx="514.9" cy="111.8" r="1.35"/><circle cx="516.6" cy="111.4" r="1.35"/><circle cx="522.0" cy="112.6" r="1.35"/><circle cx="523.5" cy="113.0" r="1.35"/><circle cx="526.1" cy="113.5" r="1.35"/><circle cx="524.3" cy="115.0" r="1.35"/><circle cx="512.9" cy="117.3" r="1.35"/><circle cx="520.2" cy="119.8" r="1.35"/><circle cx="499.9" cy="120.3" r="1.35"/><circle cx="498.3" cy="122.8" r="1.35"/><circle cx="507.4" cy="127.7" r="1.35"/><circle cx="486.5" cy="133.6" r="1.35"/><circle cx="488.0" cy="136.8" r="1.35"/><circle cx="495.4" cy="136.2" r="1.35"/><circle cx="490.4" cy="141.1" r="1.35"/><circle cx="494.8" cy="146.1" r="1.35"/><circle cx="418.3" cy="158.3" r="1.35"/><circle cx="419.5" cy="164.9" r="1.35"/><circle cx="419.1" cy="169.0" r="1.35"/><circle cx="434.5" cy="164.5" r="1.35"/><circle cx="439.0" cy="161.0" r="1.35"/><circle cx="461.1" cy="160.4" r="1.35"/><circle cx="420.1" cy="179.9" r="1.35"/></g>
<path d="M486.6 56.5V92.2H544.5" fill="none" stroke="#666" stroke-width="1"/>
<line x1="317.5" y1="175.5" x2="544.5" y2="89.0" stroke="#585858" stroke-width="1.1"/>
<path d="M317.50 207.90V56.50M317.00 56.50H544.50V207.90" fill="none" stroke="#666" stroke-width="1"/>
<path d="M317.00 207.90H545.00" fill="none" stroke="#666" stroke-width="1.5"/>
<path d="M327.3 207.9v4.8M359.3 207.9v4.8M391.3 207.9v4.8M423.3 207.9v4.8M455.3 207.9v4.8M487.3 207.9v4.8M519.3 207.9v4.8M317.5 202.3h-4.5M317.5 182.7h-4.5M317.5 163.2h-4.5M317.5 143.6h-4.5M317.5 124.1h-4.5M317.5 104.5h-4.5M317.5 85.0h-4.5M317.5 65.4h-4.5" stroke="#666" stroke-width="1" fill="none"/>
<text x="328.5" y="224.9" font-size="9.5" text-rendering="geometricPrecision" stroke="#000" stroke-width="0.15" text-anchor="middle">0.3</text>
<text x="360.5" y="224.9" font-size="9.5" text-rendering="geometricPrecision" stroke="#000" stroke-width="0.15" text-anchor="middle">0.4</text>
<text x="392.5" y="224.9" font-size="9.5" text-rendering="geometricPrecision" stroke="#000" stroke-width="0.15" text-anchor="middle">0.5</text>
<text x="424.5" y="224.9" font-size="9.5" text-rendering="geometricPrecision" stroke="#000" stroke-width="0.15" text-anchor="middle">0.6</text>
<text x="456.5" y="224.9" font-size="9.5" text-rendering="geometricPrecision" stroke="#000" stroke-width="0.15" text-anchor="middle">0.7</text>
<text x="488.5" y="224.9" font-size="9.5" text-rendering="geometricPrecision" stroke="#000" stroke-width="0.15" text-anchor="middle">0.8</text>
<text x="520.5" y="224.9" font-size="9.5" text-rendering="geometricPrecision" stroke="#000" stroke-width="0.15" text-anchor="middle">0.9</text>
<text transform="translate(307.4 203.1) rotate(-90)" font-size="9.5" text-rendering="geometricPrecision" stroke="#000" stroke-width="0.15" text-anchor="middle">0.1</text>
<text transform="translate(307.4 164.0) rotate(-90)" font-size="9.5" text-rendering="geometricPrecision" stroke="#000" stroke-width="0.15" text-anchor="middle">0.3</text>
<text transform="translate(307.4 124.9) rotate(-90)" font-size="9.5" text-rendering="geometricPrecision" stroke="#000" stroke-width="0.15" text-anchor="middle">0.5</text>
<text transform="translate(307.4 85.8) rotate(-90)" font-size="9.5" text-rendering="geometricPrecision" stroke="#000" stroke-width="0.15" text-anchor="middle">0.7</text>
<text x="384.60" y="49.40" font-size="10" stroke="#000" stroke-width="0.15" textLength="61.20" lengthAdjust="spacingAndGlyphs">cor=0.63, p=2.3</text>
<path d="M447.80 43.75L452.30 48.25M447.80 48.25L452.30 43.75" stroke="#222" stroke-width="0.95" fill="none"/>
<text x="454.80" y="49.40" font-size="9.8" stroke="#000" stroke-width="0.15" textLength="8.80" lengthAdjust="spacingAndGlyphs">10</text>
<text x="463.50" y="46.40" font-size="6.3" stroke="#000" stroke-width="0.15" textLength="9.90" lengthAdjust="spacingAndGlyphs">−34</text>
<text x="344.0" y="240.6" font-size="10" stroke="#000" stroke-width="0.22" textLength="174.5" lengthAdjust="spacingAndGlyphs">Module Membership in F−brown module</text>
<text transform="translate(291.0 231.2) rotate(-90)" font-size="10" stroke="#000" stroke-width="0.22" textLength="201.4" lengthAdjust="spacingAndGlyphs">F−brown module correlation to G−pink module</text>
<g fill="#ffb8c6"><circle cx="129.3" cy="309.5" r="1.45"/><circle cx="97.1" cy="319.9" r="1.45"/><circle cx="112.2" cy="333.2" r="1.45"/><circle cx="126.2" cy="342.3" r="1.45"/><circle cx="122.0" cy="345.9" r="1.45"/><circle cx="128.9" cy="346.6" r="1.45"/><circle cx="126.2" cy="349.0" r="1.45"/><circle cx="135.3" cy="342.6" r="1.45"/><circle cx="137.1" cy="341.7" r="1.45"/><circle cx="135.8" cy="345.9" r="1.45"/><circle cx="119.8" cy="351.4" r="1.45"/><circle cx="121.6" cy="352.6" r="1.45"/><circle cx="126.2" cy="351.7" r="1.45"/><circle cx="103.5" cy="353.2" r="1.45"/><circle cx="132.5" cy="352.6" r="1.45"/><circle cx="90.0" cy="377.8" r="1.45"/><circle cx="78.7" cy="391.2" r="1.45"/><circle cx="98.0" cy="402.7" r="1.45"/><circle cx="46.1" cy="424.1" r="1.45"/><circle cx="112.3" cy="355.0" r="1.45"/><circle cx="115.5" cy="354.1" r="1.45"/><circle cx="118.9" cy="356.5" r="1.45"/><circle cx="135.9" cy="354.1" r="1.45"/><circle cx="136.2" cy="355.9" r="1.45"/><circle cx="131.8" cy="356.5" r="1.45"/><circle cx="144.1" cy="352.0" r="1.45"/><circle cx="143.6" cy="356.2" r="1.45"/><circle cx="149.1" cy="354.1" r="1.45"/><circle cx="125.9" cy="360.0" r="1.45"/><circle cx="146.8" cy="358.9" r="1.45"/><circle cx="136.8" cy="362.7" r="1.45"/><circle cx="127.3" cy="364.5" r="1.45"/><circle cx="129.1" cy="363.6" r="1.45"/><circle cx="131.4" cy="364.5" r="1.45"/><circle cx="130.9" cy="366.4" r="1.45"/><circle cx="119.5" cy="367.3" r="1.45"/><circle cx="122.7" cy="367.7" r="1.45"/><circle cx="123.2" cy="369.5" r="1.45"/><circle cx="135.0" cy="369.1" r="1.45"/><circle cx="121.8" cy="374.1" r="1.45"/><circle cx="122.3" cy="375.9" r="1.45"/><circle cx="133.6" cy="375.9" r="1.45"/><circle cx="127.7" cy="379.5" r="1.45"/><circle cx="131.8" cy="378.2" r="1.45"/><circle cx="132.7" cy="380.9" r="1.45"/><circle cx="129.1" cy="382.7" r="1.45"/><circle cx="124.1" cy="381.8" r="1.45"/><circle cx="119.1" cy="383.2" r="1.45"/><circle cx="116.4" cy="385.5" r="1.45"/><circle cx="117.3" cy="388.6" r="1.45"/><circle cx="125.0" cy="385.5" r="1.45"/><circle cx="134.1" cy="385.0" r="1.45"/><circle cx="140.9" cy="378.0" r="1.45"/><circle cx="144.5" cy="377.7" r="1.45"/><circle cx="142.7" cy="380.9" r="1.45"/><circle cx="148.6" cy="379.1" r="1.45"/><circle cx="148.2" cy="382.3" r="1.45"/><circle cx="142.3" cy="384.4" r="1.45"/><circle cx="142.7" cy="387.3" r="1.45"/><circle cx="124.1" cy="392.1" r="1.45"/><circle cx="126.4" cy="394.5" r="1.45"/><circle cx="128.9" cy="391.5" r="1.45"/><circle cx="137.1" cy="391.8" r="1.45"/><circle cx="144.1" cy="391.8" r="1.45"/><circle cx="149.1" cy="391.6" r="1.45"/><circle cx="145.9" cy="393.9" r="1.45"/><circle cx="141.8" cy="395.1" r="1.45"/><circle cx="147.3" cy="396.6" r="1.45"/><circle cx="148.6" cy="395.7" r="1.45"/><circle cx="113.2" cy="395.7" r="1.45"/><circle cx="118.2" cy="400.7" r="1.45"/><circle cx="118.2" cy="402.5" r="1.45"/><circle cx="129.1" cy="402.5" r="1.45"/><circle cx="130.5" cy="401.2" r="1.45"/><circle cx="135.5" cy="400.3" r="1.45"/><circle cx="142.7" cy="398.9" r="1.45"/><circle cx="144.7" cy="398.9" r="1.45"/><circle cx="142.3" cy="402.1" r="1.45"/><circle cx="139.3" cy="404.2" r="1.45"/><circle cx="140.5" cy="405.1" r="1.45"/><circle cx="149.5" cy="404.2" r="1.45"/><circle cx="141.6" cy="408.2" r="1.45"/><circle cx="132.7" cy="412.7" r="1.45"/><circle cx="128.9" cy="417.1" r="1.45"/><circle cx="136.8" cy="418.0" r="1.45"/><circle cx="125.9" cy="419.6" r="1.45"/><circle cx="153.9" cy="297.3" r="1.45"/><circle cx="195.6" cy="286.7" r="1.45"/><circle cx="195.6" cy="299.6" r="1.45"/><circle cx="182.2" cy="303.5" r="1.45"/><circle cx="171.7" cy="307.3" r="1.45"/><circle cx="161.9" cy="312.0" r="1.45"/><circle cx="186.9" cy="307.9" r="1.45"/><circle cx="193.8" cy="308.5" r="1.45"/><circle cx="184.1" cy="311.1" r="1.45"/><circle cx="188.5" cy="310.8" r="1.45"/><circle cx="190.2" cy="312.6" r="1.45"/><circle cx="192.6" cy="311.8" r="1.45"/><circle cx="193.8" cy="310.3" r="1.45"/><circle cx="186.1" cy="314.1" r="1.45"/><circle cx="195.0" cy="314.4" r="1.45"/><circle cx="179.4" cy="315.6" r="1.45"/><circle cx="189.1" cy="316.5" r="1.45"/><circle cx="191.4" cy="317.3" r="1.45"/><circle cx="171.1" cy="317.3" r="1.45"/><circle cx="174.0" cy="317.9" r="1.45"/><circle cx="183.8" cy="319.1" r="1.45"/><circle cx="193.2" cy="320.0" r="1.45"/><circle cx="168.4" cy="320.0" r="1.45"/><circle cx="181.4" cy="320.5" r="1.45"/><circle cx="180.2" cy="321.5" r="1.45"/><circle cx="187.9" cy="321.5" r="1.45"/><circle cx="146.6" cy="320.9" r="1.45"/><circle cx="163.4" cy="320.3" r="1.45"/><circle cx="161.9" cy="321.5" r="1.45"/><circle cx="159.6" cy="322.6" r="1.45"/><circle cx="190.2" cy="323.2" r="1.45"/><circle cx="157.8" cy="325.6" r="1.45"/><circle cx="160.8" cy="327.1" r="1.45"/><circle cx="185.5" cy="325.0" r="1.45"/><circle cx="187.9" cy="326.2" r="1.45"/><circle cx="147.8" cy="330.9" r="1.45"/><circle cx="160.2" cy="330.9" r="1.45"/><circle cx="168.4" cy="331.2" r="1.45"/><circle cx="153.5" cy="334.4" r="1.45"/><circle cx="159.5" cy="334.4" r="1.45"/><circle cx="171.8" cy="333.8" r="1.45"/><circle cx="174.8" cy="333.2" r="1.45"/><circle cx="178.2" cy="333.2" r="1.45"/><circle cx="183.1" cy="335.1" r="1.45"/><circle cx="184.2" cy="337.0" r="1.45"/><circle cx="179.0" cy="336.2" r="1.45"/><circle cx="146.7" cy="336.2" r="1.45"/><circle cx="164.0" cy="337.7" r="1.45"/><circle cx="176.0" cy="338.1" r="1.45"/><circle cx="149.7" cy="340.0" r="1.45"/><circle cx="154.6" cy="340.0" r="1.45"/><circle cx="161.7" cy="340.7" r="1.45"/><circle cx="150.5" cy="342.6" r="1.45"/><circle cx="153.9" cy="343.0" r="1.45"/><circle cx="151.2" cy="345.6" r="1.45"/><circle cx="185.3" cy="344.9" r="1.45"/><circle cx="164.0" cy="346.7" r="1.45"/><circle cx="166.2" cy="346.4" r="1.45"/><circle cx="168.1" cy="345.6" r="1.45"/><circle cx="174.8" cy="344.9" r="1.45"/><circle cx="155.7" cy="348.2" r="1.45"/><circle cx="174.8" cy="349.0" r="1.45"/><circle cx="179.7" cy="349.0" r="1.45"/><circle cx="161.0" cy="350.5" r="1.45"/><circle cx="163.2" cy="349.4" r="1.45"/><circle cx="180.5" cy="351.6" r="1.45"/><circle cx="182.3" cy="352.0" r="1.45"/><circle cx="185.0" cy="351.6" r="1.45"/><circle cx="155.0" cy="353.5" r="1.45"/><circle cx="163.6" cy="353.8" r="1.45"/><circle cx="150.9" cy="354.8" r="1.45"/><circle cx="177.1" cy="354.2" r="1.45"/><circle cx="170.0" cy="355.7" r="1.45"/><circle cx="183.1" cy="355.7" r="1.45"/><circle cx="185.0" cy="356.5" r="1.45"/><circle cx="170.3" cy="358.7" r="1.45"/><circle cx="176.3" cy="358.7" r="1.45"/><circle cx="182.3" cy="358.7" r="1.45"/><circle cx="159.5" cy="359.5" r="1.45"/><circle cx="157.2" cy="361.0" r="1.45"/><circle cx="163.2" cy="361.7" r="1.45"/><circle cx="157.6" cy="363.2" r="1.45"/><circle cx="179.0" cy="362.5" r="1.45"/><circle cx="182.7" cy="362.5" r="1.45"/><circle cx="166.2" cy="364.7" r="1.45"/><circle cx="170.0" cy="366.8" r="1.45"/><circle cx="172.8" cy="367.5" r="1.45"/><circle cx="171.4" cy="369.6" r="1.45"/><circle cx="179.9" cy="364.7" r="1.45"/><circle cx="187.0" cy="367.5" r="1.45"/><circle cx="187.0" cy="368.9" r="1.45"/><circle cx="154.5" cy="372.8" r="1.45"/><circle cx="155.9" cy="374.2" r="1.45"/><circle cx="160.1" cy="373.2" r="1.45"/><circle cx="163.7" cy="371.3" r="1.45"/><circle cx="167.2" cy="374.6" r="1.45"/><circle cx="168.3" cy="376.0" r="1.45"/><circle cx="159.4" cy="376.0" r="1.45"/><circle cx="179.2" cy="374.6" r="1.45"/><circle cx="182.4" cy="370.8" r="1.45"/><circle cx="183.9" cy="372.8" r="1.45"/><circle cx="194.7" cy="372.5" r="1.45"/><circle cx="183.0" cy="377.8" r="1.45"/><circle cx="150.9" cy="381.0" r="1.45"/><circle cx="158.0" cy="381.0" r="1.45"/><circle cx="162.2" cy="380.2" r="1.45"/><circle cx="164.6" cy="379.3" r="1.45"/><circle cx="166.5" cy="383.5" r="1.45"/><circle cx="172.1" cy="385.5" r="1.45"/><circle cx="181.0" cy="382.6" r="1.45"/><circle cx="187.0" cy="381.4" r="1.45"/><circle cx="192.6" cy="381.4" r="1.45"/><circle cx="167.2" cy="390.1" r="1.45"/><circle cx="178.5" cy="389.7" r="1.45"/><circle cx="146.7" cy="394.4" r="1.45"/><circle cx="162.7" cy="395.8" r="1.45"/><circle cx="162.7" cy="397.2" r="1.45"/><circle cx="197.2" cy="288.7" r="1.45"/><circle cx="206.2" cy="284.2" r="1.45"/><circle cx="208.9" cy="289.6" r="1.45"/><circle cx="213.0" cy="290.7" r="1.45"/><circle cx="203.2" cy="296.5" r="1.45"/><circle cx="204.8" cy="296.2" r="1.45"/><circle cx="208.1" cy="297.3" r="1.45"/><circle cx="211.1" cy="295.9" r="1.45"/><circle cx="213.5" cy="297.8" r="1.45"/><circle cx="199.9" cy="300.7" r="1.45"/><circle cx="203.5" cy="301.1" r="1.45"/><circle cx="205.6" cy="301.6" r="1.45"/><circle cx="209.5" cy="303.3" r="1.45"/><circle cx="212.7" cy="302.2" r="1.45"/><circle cx="223.0" cy="284.7" r="1.45"/><circle cx="224.4" cy="286.1" r="1.45"/><circle cx="224.4" cy="289.6" r="1.45"/><circle cx="225.7" cy="293.2" r="1.45"/><circle cx="222.2" cy="293.7" r="1.45"/><circle cx="221.6" cy="295.4" r="1.45"/><circle cx="218.9" cy="295.9" r="1.45"/><circle cx="231.5" cy="290.7" r="1.45"/><circle cx="233.4" cy="289.1" r="1.45"/><circle cx="235.8" cy="290.7" r="1.45"/><circle cx="235.0" cy="293.5" r="1.45"/><circle cx="239.6" cy="289.6" r="1.45"/><circle cx="242.6" cy="287.2" r="1.45"/><circle cx="242.4" cy="292.1" r="1.45"/><circle cx="230.4" cy="295.9" r="1.45"/><circle cx="232.5" cy="296.5" r="1.45"/><circle cx="238.0" cy="295.1" r="1.45"/><circle cx="239.1" cy="297.0" r="1.45"/><circle cx="234.7" cy="298.9" r="1.45"/><circle cx="216.7" cy="299.7" r="1.45"/><circle cx="220.0" cy="300.8" r="1.45"/><circle cx="223.3" cy="299.7" r="1.45"/><circle cx="226.5" cy="299.2" r="1.45"/><circle cx="218.4" cy="302.5" r="1.45"/><circle cx="222.2" cy="303.0" r="1.45"/><circle cx="227.6" cy="302.5" r="1.45"/><circle cx="231.5" cy="301.9" r="1.45"/><circle cx="236.9" cy="301.4" r="1.45"/><circle cx="240.2" cy="299.7" r="1.45"/><circle cx="242.4" cy="301.9" r="1.45"/><circle cx="234.2" cy="303.0" r="1.45"/><circle cx="249.6" cy="291.0" r="1.45"/><circle cx="252.3" cy="292.8" r="1.45"/><circle cx="251.2" cy="295.1" r="1.45"/><circle cx="250.7" cy="297.5" r="1.45"/><circle cx="245.6" cy="296.9" r="1.45"/><circle cx="246.7" cy="298.5" r="1.45"/><circle cx="256.1" cy="298.4" r="1.45"/><circle cx="248.8" cy="301.7" r="1.45"/><circle cx="245.4" cy="303.1" r="1.45"/><circle cx="197.2" cy="306.6" r="1.45"/><circle cx="197.7" cy="308.3" r="1.45"/><circle cx="202.4" cy="307.5" r="1.45"/><circle cx="204.0" cy="308.0" r="1.45"/><circle cx="201.8" cy="311.8" r="1.45"/><circle cx="203.5" cy="311.0" r="1.45"/><circle cx="207.8" cy="310.2" r="1.45"/><circle cx="209.5" cy="311.5" r="1.45"/><circle cx="212.2" cy="309.6" r="1.45"/><circle cx="214.4" cy="308.5" r="1.45"/><circle cx="215.5" cy="311.8" r="1.45"/><circle cx="212.2" cy="312.9" r="1.45"/><circle cx="214.4" cy="314.0" r="1.45"/><circle cx="199.1" cy="315.1" r="1.45"/><circle cx="201.0" cy="315.6" r="1.45"/><circle cx="204.8" cy="314.8" r="1.45"/><circle cx="208.9" cy="315.1" r="1.45"/><circle cx="210.3" cy="316.2" r="1.45"/><circle cx="198.5" cy="317.8" r="1.45"/><circle cx="200.2" cy="318.4" r="1.45"/><circle cx="205.6" cy="319.5" r="1.45"/><circle cx="208.4" cy="319.5" r="1.45"/><circle cx="211.6" cy="318.4" r="1.45"/><circle cx="214.4" cy="317.8" r="1.45"/><circle cx="196.9" cy="320.5" r="1.45"/><circle cx="199.1" cy="321.1" r="1.45"/><circle cx="210.0" cy="321.6" r="1.45"/><circle cx="213.8" cy="321.1" r="1.45"/><circle cx="198.0" cy="324.4" r="1.45"/><circle cx="203.5" cy="323.8" r="1.45"/><circle cx="205.6" cy="323.8" r="1.45"/><circle cx="210.5" cy="324.9" r="1.45"/><circle cx="214.9" cy="323.8" r="1.45"/><circle cx="214.3" cy="303.0" r="1.45"/><circle cx="224.7" cy="302.8" r="1.45"/><circle cx="237.9" cy="303.2" r="1.45"/><circle cx="240.7" cy="302.6" r="1.45"/><circle cx="215.6" cy="304.8" r="1.45"/><circle cx="218.7" cy="305.2" r="1.45"/><circle cx="221.2" cy="305.6" r="1.45"/><circle cx="223.8" cy="305.6" r="1.45"/><circle cx="226.1" cy="305.5" r="1.45"/><circle cx="228.8" cy="305.6" r="1.45"/><circle cx="231.7" cy="304.9" r="1.45"/><circle cx="233.7" cy="305.0" r="1.45"/><circle cx="237.0" cy="305.2" r="1.45"/><circle cx="239.3" cy="305.1" r="1.45"/><circle cx="241.8" cy="305.1" r="1.45"/><circle cx="217.2" cy="307.9" r="1.45"/><circle cx="219.9" cy="307.9" r="1.45"/><circle cx="222.6" cy="307.9" r="1.45"/><circle cx="225.1" cy="307.2" r="1.45"/><circle cx="230.5" cy="307.6" r="1.45"/><circle cx="232.9" cy="307.2" r="1.45"/><circle cx="237.7" cy="307.1" r="1.45"/><circle cx="240.8" cy="307.9" r="1.45"/><circle cx="242.7" cy="307.8" r="1.45"/><circle cx="218.2" cy="310.0" r="1.45"/><circle cx="221.3" cy="309.3" r="1.45"/><circle cx="223.7" cy="309.3" r="1.45"/><circle cx="226.4" cy="309.6" r="1.45"/><circle cx="229.1" cy="310.2" r="1.45"/><circle cx="231.4" cy="310.2" r="1.45"/><circle cx="233.8" cy="309.4" r="1.45"/><circle cx="236.7" cy="309.3" r="1.45"/><circle cx="238.9" cy="309.7" r="1.45"/><circle cx="241.9" cy="309.4" r="1.45"/><circle cx="220.1" cy="311.9" r="1.45"/><circle cx="222.3" cy="312.0" r="1.45"/><circle cx="225.0" cy="312.1" r="1.45"/><circle cx="227.6" cy="312.1" r="1.45"/><circle cx="230.5" cy="312.0" r="1.45"/><circle cx="232.6" cy="312.2" r="1.45"/><circle cx="235.1" cy="311.8" r="1.45"/><circle cx="238.3" cy="312.0" r="1.45"/><circle cx="243.0" cy="312.1" r="1.45"/><circle cx="218.5" cy="313.9" r="1.45"/><circle cx="221.1" cy="314.2" r="1.45"/><circle cx="223.8" cy="314.1" r="1.45"/><circle cx="226.4" cy="314.5" r="1.45"/><circle cx="231.6" cy="314.7" r="1.45"/><circle cx="233.8" cy="314.2" r="1.45"/><circle cx="236.7" cy="314.1" r="1.45"/><circle cx="239.1" cy="314.1" r="1.45"/><circle cx="241.7" cy="314.3" r="1.45"/><circle cx="219.8" cy="316.7" r="1.45"/><circle cx="222.1" cy="316.3" r="1.45"/><circle cx="225.2" cy="316.3" r="1.45"/><circle cx="227.2" cy="316.5" r="1.45"/><circle cx="230.3" cy="316.2" r="1.45"/><circle cx="232.5" cy="316.4" r="1.45"/><circle cx="235.6" cy="316.5" r="1.45"/><circle cx="238.2" cy="316.2" r="1.45"/><circle cx="240.4" cy="316.6" r="1.45"/><circle cx="243.4" cy="316.5" r="1.45"/><circle cx="218.4" cy="318.5" r="1.45"/><circle cx="221.3" cy="319.1" r="1.45"/><circle cx="223.3" cy="318.6" r="1.45"/><circle cx="226.5" cy="318.9" r="1.45"/><circle cx="229.1" cy="318.6" r="1.45"/><circle cx="231.1" cy="318.6" r="1.45"/><circle cx="234.3" cy="318.6" r="1.45"/><circle cx="236.5" cy="318.7" r="1.45"/><circle cx="239.1" cy="318.7" r="1.45"/><circle cx="242.2" cy="318.5" r="1.45"/><circle cx="217.4" cy="321.5" r="1.45"/><circle cx="219.6" cy="321.4" r="1.45"/><circle cx="225.1" cy="321.3" r="1.45"/><circle cx="227.6" cy="321.0" r="1.45"/><circle cx="229.9" cy="320.9" r="1.45"/><circle cx="235.4" cy="320.8" r="1.45"/><circle cx="238.2" cy="320.6" r="1.45"/><circle cx="240.9" cy="321.2" r="1.45"/><circle cx="243.5" cy="321.4" r="1.45"/><circle cx="218.0" cy="323.5" r="1.45"/><circle cx="220.7" cy="323.1" r="1.45"/><circle cx="223.7" cy="323.3" r="1.45"/><circle cx="228.9" cy="323.1" r="1.45"/><circle cx="231.2" cy="323.6" r="1.45"/><circle cx="234.0" cy="323.5" r="1.45"/><circle cx="236.5" cy="323.0" r="1.45"/><circle cx="239.2" cy="323.5" r="1.45"/><circle cx="241.5" cy="323.5" r="1.45"/><circle cx="214.9" cy="325.8" r="1.45"/><circle cx="219.8" cy="325.8" r="1.45"/><circle cx="221.9" cy="325.3" r="1.45"/><circle cx="224.7" cy="325.5" r="1.45"/><circle cx="227.4" cy="325.5" r="1.45"/><circle cx="232.3" cy="325.2" r="1.45"/><circle cx="235.0" cy="325.1" r="1.45"/><circle cx="238.3" cy="325.8" r="1.45"/><circle cx="240.1" cy="325.5" r="1.45"/><circle cx="242.9" cy="325.3" r="1.45"/><circle cx="241.6" cy="304.7" r="1.45"/><circle cx="244.3" cy="304.1" r="1.45"/><circle cx="246.4" cy="304.7" r="1.45"/><circle cx="241.6" cy="306.8" r="1.45"/><circle cx="244.8" cy="306.8" r="1.45"/><circle cx="254.2" cy="307.1" r="1.45"/><circle cx="248.0" cy="310.0" r="1.45"/><circle cx="251.5" cy="310.0" r="1.45"/><circle cx="244.0" cy="311.6" r="1.45"/><circle cx="255.5" cy="312.2" r="1.45"/><circle cx="240.5" cy="313.2" r="1.45"/><circle cx="246.4" cy="313.2" r="1.45"/><circle cx="244.8" cy="315.4" r="1.45"/><circle cx="247.5" cy="316.4" r="1.45"/><circle cx="251.8" cy="315.9" r="1.45"/><circle cx="242.7" cy="317.0" r="1.45"/><circle cx="250.2" cy="318.1" r="1.45"/><circle cx="256.1" cy="317.8" r="1.45"/><circle cx="240.5" cy="319.1" r="1.45"/><circle cx="246.4" cy="320.2" r="1.45"/><circle cx="248.0" cy="320.5" r="1.45"/><circle cx="241.6" cy="322.3" r="1.45"/><circle cx="242.7" cy="324.5" r="1.45"/><circle cx="240.5" cy="326.1" r="1.45"/><circle cx="197.5" cy="326.1" r="1.45"/><circle cx="199.1" cy="326.6" r="1.45"/><circle cx="196.9" cy="328.3" r="1.45"/><circle cx="198.5" cy="329.1" r="1.45"/><circle cx="204.5" cy="325.5" r="1.45"/><circle cx="206.7" cy="325.8" r="1.45"/><circle cx="193.1" cy="333.2" r="1.45"/><circle cx="202.4" cy="332.6" r="1.45"/><circle cx="202.9" cy="334.3" r="1.45"/><circle cx="207.3" cy="333.2" r="1.45"/><circle cx="211.6" cy="329.9" r="1.45"/><circle cx="212.7" cy="332.1" r="1.45"/><circle cx="214.4" cy="328.3" r="1.45"/><circle cx="214.9" cy="331.5" r="1.45"/><circle cx="198.0" cy="336.7" r="1.45"/><circle cx="200.2" cy="337.0" r="1.45"/><circle cx="203.5" cy="336.5" r="1.45"/><circle cx="208.9" cy="336.7" r="1.45"/><circle cx="210.5" cy="338.6" r="1.45"/><circle cx="213.8" cy="338.1" r="1.45"/><circle cx="192.5" cy="338.1" r="1.45"/><circle cx="193.6" cy="340.0" r="1.45"/><circle cx="195.8" cy="340.8" r="1.45"/><circle cx="207.3" cy="339.2" r="1.45"/><circle cx="207.8" cy="340.3" r="1.45"/><circle cx="214.4" cy="340.3" r="1.45"/><circle cx="187.6" cy="344.1" r="1.45"/><circle cx="198.5" cy="344.1" r="1.45"/><circle cx="202.4" cy="343.8" r="1.45"/><circle cx="205.1" cy="344.6" r="1.45"/><circle cx="209.5" cy="343.3" r="1.45"/><circle cx="211.6" cy="344.6" r="1.45"/><circle cx="193.1" cy="346.3" r="1.45"/><circle cx="194.7" cy="346.0" r="1.45"/><circle cx="206.2" cy="346.8" r="1.45"/><circle cx="209.5" cy="346.8" r="1.45"/><circle cx="213.3" cy="347.4" r="1.45"/><circle cx="187.1" cy="348.5" r="1.45"/><circle cx="192.0" cy="349.0" r="1.45"/><circle cx="198.0" cy="347.9" r="1.45"/><circle cx="201.3" cy="348.5" r="1.45"/><circle cx="205.1" cy="349.3" r="1.45"/><circle cx="223.3" cy="326.1" r="1.45"/><circle cx="230.4" cy="326.1" r="1.45"/><circle cx="216.2" cy="328.8" r="1.45"/><circle cx="220.0" cy="328.8" r="1.45"/><circle cx="222.7" cy="328.8" r="1.45"/><circle cx="226.0" cy="328.8" r="1.45"/><circle cx="228.7" cy="328.8" r="1.45"/><circle cx="232.0" cy="328.8" r="1.45"/><circle cx="236.4" cy="328.8" r="1.45"/><circle cx="217.8" cy="331.5" r="1.45"/><circle cx="221.1" cy="331.5" r="1.45"/><circle cx="224.9" cy="331.5" r="1.45"/><circle cx="227.6" cy="331.5" r="1.45"/><circle cx="230.4" cy="331.5" r="1.45"/><circle cx="234.7" cy="331.5" r="1.45"/><circle cx="237.5" cy="331.5" r="1.45"/><circle cx="215.6" cy="334.0" r="1.45"/><circle cx="219.5" cy="334.0" r="1.45"/><circle cx="226.5" cy="334.0" r="1.45"/><circle cx="229.3" cy="334.0" r="1.45"/><circle cx="232.8" cy="334.0" r="1.45"/><circle cx="214.5" cy="336.7" r="1.45"/><circle cx="217.8" cy="336.7" r="1.45"/><circle cx="223.8" cy="336.7" r="1.45"/><circle cx="227.1" cy="336.7" r="1.45"/><circle cx="229.8" cy="336.7" r="1.45"/><circle cx="234.2" cy="336.7" r="1.45"/><circle cx="236.4" cy="336.7" r="1.45"/><circle cx="216.2" cy="339.2" r="1.45"/><circle cx="221.6" cy="339.2" r="1.45"/><circle cx="227.6" cy="339.2" r="1.45"/><circle cx="230.4" cy="339.2" r="1.45"/><circle cx="219.5" cy="340.8" r="1.45"/><circle cx="222.7" cy="340.8" r="1.45"/><circle cx="228.7" cy="340.8" r="1.45"/><circle cx="234.7" cy="340.8" r="1.45"/><circle cx="218.4" cy="343.0" r="1.45"/><circle cx="225.5" cy="343.0" r="1.45"/><circle cx="217.3" cy="345.2" r="1.45"/><circle cx="222.2" cy="345.2" r="1.45"/><circle cx="223.8" cy="345.2" r="1.45"/><circle cx="223.3" cy="347.4" r="1.45"/><circle cx="235.8" cy="347.4" r="1.45"/><circle cx="223.8" cy="349.0" r="1.45"/><circle cx="188.2" cy="353.4" r="1.45"/><circle cx="191.4" cy="352.5" r="1.45"/><circle cx="198.1" cy="351.1" r="1.45"/><circle cx="201.7" cy="350.7" r="1.45"/><circle cx="202.2" cy="352.5" r="1.45"/><circle cx="207.6" cy="349.3" r="1.45"/><circle cx="209.4" cy="348.9" r="1.45"/><circle cx="208.0" cy="352.0" r="1.45"/><circle cx="212.1" cy="351.1" r="1.45"/><circle cx="216.1" cy="351.1" r="1.45"/><circle cx="215.7" cy="353.4" r="1.45"/><circle cx="213.0" cy="354.3" r="1.45"/><circle cx="204.9" cy="353.8" r="1.45"/><circle cx="204.4" cy="356.1" r="1.45"/><circle cx="199.5" cy="355.2" r="1.45"/><circle cx="190.5" cy="356.1" r="1.45"/><circle cx="193.6" cy="357.0" r="1.45"/><circle cx="211.6" cy="356.5" r="1.45"/><circle cx="216.6" cy="357.4" r="1.45"/><circle cx="219.7" cy="358.8" r="1.45"/><circle cx="206.2" cy="358.8" r="1.45"/><circle cx="186.9" cy="359.7" r="1.45"/><circle cx="191.8" cy="360.6" r="1.45"/><circle cx="195.4" cy="361.5" r="1.45"/><circle cx="198.6" cy="360.1" r="1.45"/><circle cx="209.8" cy="360.6" r="1.45"/><circle cx="187.3" cy="363.3" r="1.45"/><circle cx="209.8" cy="368.2" r="1.45"/><circle cx="221.5" cy="298.9" r="1.45"/><circle cx="224.2" cy="301.1" r="1.45"/><circle cx="229.6" cy="301.1" r="1.45"/><circle cx="231.8" cy="300.0" r="1.45"/><circle cx="233.5" cy="295.1" r="1.45"/><circle cx="223.6" cy="298.4" r="1.45"/><circle cx="228.0" cy="299.5" r="1.45"/><circle cx="220.9" cy="301.6" r="1.45"/><circle cx="226.9" cy="301.6" r="1.45"/><circle cx="233.5" cy="301.6" r="1.45"/><circle cx="215.5" cy="302.7" r="1.45"/><circle cx="232.9" cy="290.2" r="1.45"/><circle cx="238.9" cy="298.4" r="1.45"/></g>
<path d="M200.6 278.4V305.1H264.8" fill="none" stroke="#666" stroke-width="1"/>
<line x1="37.6" y1="419.5" x2="264.8" y2="298.2" stroke="#585858" stroke-width="1.1"/>
<path d="M37.60 429.90V278.40M37.10 278.40H264.80V429.90" fill="none" stroke="#666" stroke-width="1"/>
<path d="M37.10 429.90H265.30" fill="none" stroke="#666" stroke-width="1.5"/>
<path d="M54.4 429.9v3.4M83.9 429.9v3.4M113.5 429.9v3.4M143.0 429.9v3.4M172.5 429.9v3.4M202.0 429.9v3.4M231.6 429.9v3.4M261.1 429.9v3.4M37.6 402.4h-2.4M37.6 364.7h-2.4M37.6 327.1h-2.4M37.6 289.4h-2.4" stroke="#666" stroke-width="1" fill="none"/>
<text x="53.6" y="445.7" font-size="9.5" text-rendering="geometricPrecision" stroke="#000" stroke-width="0.15" text-anchor="middle">0.3</text>
<text x="83.1" y="445.7" font-size="9.5" text-rendering="geometricPrecision" stroke="#000" stroke-width="0.15" text-anchor="middle">0.4</text>
<text x="112.7" y="445.7" font-size="9.5" text-rendering="geometricPrecision" stroke="#000" stroke-width="0.15" text-anchor="middle">0.5</text>
<text x="142.2" y="445.7" font-size="9.5" text-rendering="geometricPrecision" stroke="#000" stroke-width="0.15" text-anchor="middle">0.6</text>
<text x="171.7" y="445.7" font-size="9.5" text-rendering="geometricPrecision" stroke="#000" stroke-width="0.15" text-anchor="middle">0.7</text>
<text x="201.2" y="445.7" font-size="9.5" text-rendering="geometricPrecision" stroke="#000" stroke-width="0.15" text-anchor="middle">0.8</text>
<text x="230.8" y="445.7" font-size="9.5" text-rendering="geometricPrecision" stroke="#000" stroke-width="0.15" text-anchor="middle">0.9</text>
<text x="260.3" y="445.7" font-size="9.5" text-rendering="geometricPrecision" stroke="#000" stroke-width="0.15" text-anchor="middle">1.0</text>
<text transform="translate(29.1 402.9) rotate(-90)" font-size="9.5" text-rendering="geometricPrecision" stroke="#000" stroke-width="0.15" text-anchor="middle">0.2</text>
<text transform="translate(29.1 365.2) rotate(-90)" font-size="9.5" text-rendering="geometricPrecision" stroke="#000" stroke-width="0.15" text-anchor="middle">0.4</text>
<text transform="translate(29.1 327.6) rotate(-90)" font-size="9.5" text-rendering="geometricPrecision" stroke="#000" stroke-width="0.15" text-anchor="middle">0.6</text>
<text transform="translate(29.1 289.9) rotate(-90)" font-size="9.5" text-rendering="geometricPrecision" stroke="#000" stroke-width="0.15" text-anchor="middle">0.8</text>
<text x="110.60" y="272.70" font-size="10" stroke="#000" stroke-width="0.15" textLength="61.30" lengthAdjust="spacingAndGlyphs">cor=0.72, p=2.7</text>
<path d="M173.95 267.05L178.45 271.55M173.95 271.55L178.45 267.05" stroke="#222" stroke-width="0.95" fill="none"/>
<text x="181.20" y="272.70" font-size="9.8" stroke="#000" stroke-width="0.15" textLength="8.50" lengthAdjust="spacingAndGlyphs">10</text>
<text x="189.90" y="269.40" font-size="6.3" stroke="#000" stroke-width="0.15" textLength="12.20" lengthAdjust="spacingAndGlyphs">−117</text>
<text x="66.1" y="460.2" font-size="10" stroke="#000" stroke-width="0.22" textLength="167.5" lengthAdjust="spacingAndGlyphs">Module Membership in G−pink module</text>
<text transform="translate(14.2 428.4) rotate(-90)" font-size="10" stroke="#000" stroke-width="0.22" textLength="146.7" lengthAdjust="spacingAndGlyphs">Gene significance for Temperature</text>
<g fill="#c80000"><circle cx="400.7" cy="300.8" r="1.35"/><circle cx="388.9" cy="312.3" r="1.35"/><circle cx="394.9" cy="318.6" r="1.35"/><circle cx="402.5" cy="315.7" r="1.35"/><circle cx="416.7" cy="313.2" r="1.35"/><circle cx="402.0" cy="324.5" r="1.35"/><circle cx="403.8" cy="327.7" r="1.35"/><circle cx="410.7" cy="327.7" r="1.35"/><circle cx="412.9" cy="327.2" r="1.35"/><circle cx="401.3" cy="331.2" r="1.35"/><circle cx="411.3" cy="331.7" r="1.35"/><circle cx="408.9" cy="334.5" r="1.35"/><circle cx="395.8" cy="335.0" r="1.35"/><circle cx="404.4" cy="338.1" r="1.35"/><circle cx="407.6" cy="338.1" r="1.35"/><circle cx="412.9" cy="339.0" r="1.35"/><circle cx="414.0" cy="341.7" r="1.35"/><circle cx="383.8" cy="339.9" r="1.35"/><circle cx="412.5" cy="343.5" r="1.35"/><circle cx="378.5" cy="344.8" r="1.35"/><circle cx="411.1" cy="345.4" r="1.35"/><circle cx="414.0" cy="344.8" r="1.35"/><circle cx="386.7" cy="347.7" r="1.35"/><circle cx="387.5" cy="349.9" r="1.35"/><circle cx="396.7" cy="348.1" r="1.35"/><circle cx="403.8" cy="350.3" r="1.35"/><circle cx="399.8" cy="352.1" r="1.35"/><circle cx="416.2" cy="351.4" r="1.35"/><circle cx="386.2" cy="353.2" r="1.35"/><circle cx="325.6" cy="363.5" r="1.35"/><circle cx="363.1" cy="366.2" r="1.35"/><circle cx="350.7" cy="389.5" r="1.35"/><circle cx="352.9" cy="408.5" r="1.35"/><circle cx="365.3" cy="417.6" r="1.35"/><circle cx="353.1" cy="421.6" r="1.35"/><circle cx="355.6" cy="424.0" r="1.35"/><circle cx="378.3" cy="355.6" r="1.35"/><circle cx="386.5" cy="354.3" r="1.35"/><circle cx="382.1" cy="358.9" r="1.35"/><circle cx="382.6" cy="360.8" r="1.35"/><circle cx="375.1" cy="362.1" r="1.35"/><circle cx="392.7" cy="358.6" r="1.35"/><circle cx="395.6" cy="357.6" r="1.35"/><circle cx="396.7" cy="356.4" r="1.35"/><circle cx="402.1" cy="356.9" r="1.35"/><circle cx="403.2" cy="358.9" r="1.35"/><circle cx="402.1" cy="360.8" r="1.35"/><circle cx="408.6" cy="356.4" r="1.35"/><circle cx="412.2" cy="355.6" r="1.35"/><circle cx="413.8" cy="357.6" r="1.35"/><circle cx="410.2" cy="358.9" r="1.35"/><circle cx="414.6" cy="354.8" r="1.35"/><circle cx="405.7" cy="360.5" r="1.35"/><circle cx="408.6" cy="361.3" r="1.35"/><circle cx="412.2" cy="360.5" r="1.35"/><circle cx="418.4" cy="360.8" r="1.35"/><circle cx="404.1" cy="363.4" r="1.35"/><circle cx="406.5" cy="364.6" r="1.35"/><circle cx="391.4" cy="366.2" r="1.35"/><circle cx="397.2" cy="365.7" r="1.35"/><circle cx="402.4" cy="365.7" r="1.35"/><circle cx="404.1" cy="367.0" r="1.35"/><circle cx="411.9" cy="366.2" r="1.35"/><circle cx="377.5" cy="369.1" r="1.35"/><circle cx="397.5" cy="370.0" r="1.35"/><circle cx="401.1" cy="370.3" r="1.35"/><circle cx="407.3" cy="368.6" r="1.35"/><circle cx="407.0" cy="370.3" r="1.35"/><circle cx="418.7" cy="370.3" r="1.35"/><circle cx="371.5" cy="372.7" r="1.35"/><circle cx="374.0" cy="375.2" r="1.35"/><circle cx="379.3" cy="374.8" r="1.35"/><circle cx="381.8" cy="373.5" r="1.35"/><circle cx="384.0" cy="373.9" r="1.35"/><circle cx="407.6" cy="372.7" r="1.35"/><circle cx="407.6" cy="374.3" r="1.35"/><circle cx="411.4" cy="375.2" r="1.35"/><circle cx="403.7" cy="376.0" r="1.35"/><circle cx="396.4" cy="376.5" r="1.35"/><circle cx="416.7" cy="376.0" r="1.35"/><circle cx="380.5" cy="378.1" r="1.35"/><circle cx="387.8" cy="379.2" r="1.35"/><circle cx="411.9" cy="380.4" r="1.35"/><circle cx="382.6" cy="381.7" r="1.35"/><circle cx="399.7" cy="384.1" r="1.35"/><circle cx="394.8" cy="384.6" r="1.35"/><circle cx="402.8" cy="384.9" r="1.35"/><circle cx="407.0" cy="384.1" r="1.35"/><circle cx="412.2" cy="384.1" r="1.35"/><circle cx="404.9" cy="387.4" r="1.35"/><circle cx="403.7" cy="385.7" r="1.35"/><circle cx="372.3" cy="390.1" r="1.35"/><circle cx="379.6" cy="389.0" r="1.35"/><circle cx="382.1" cy="389.0" r="1.35"/><circle cx="383.2" cy="390.6" r="1.35"/><circle cx="382.1" cy="391.8" r="1.35"/><circle cx="386.2" cy="390.1" r="1.35"/><circle cx="388.3" cy="390.1" r="1.35"/><circle cx="393.5" cy="389.5" r="1.35"/><circle cx="398.4" cy="389.3" r="1.35"/><circle cx="416.3" cy="389.0" r="1.35"/><circle cx="404.1" cy="392.6" r="1.35"/><circle cx="378.0" cy="393.9" r="1.35"/><circle cx="384.5" cy="395.2" r="1.35"/><circle cx="389.1" cy="396.3" r="1.35"/><circle cx="390.2" cy="397.1" r="1.35"/><circle cx="394.3" cy="395.5" r="1.35"/><circle cx="399.2" cy="395.5" r="1.35"/><circle cx="400.5" cy="395.5" r="1.35"/><circle cx="371.5" cy="397.5" r="1.35"/><circle cx="378.0" cy="398.8" r="1.35"/><circle cx="400.8" cy="398.8" r="1.35"/><circle cx="407.6" cy="397.6" r="1.35"/><circle cx="407.6" cy="399.6" r="1.35"/><circle cx="401.6" cy="400.1" r="1.35"/><circle cx="367.9" cy="402.5" r="1.35"/><circle cx="378.0" cy="403.6" r="1.35"/><circle cx="407.0" cy="404.1" r="1.35"/><circle cx="368.6" cy="407.4" r="1.35"/><circle cx="391.0" cy="406.9" r="1.35"/><circle cx="371.5" cy="410.1" r="1.35"/><circle cx="373.5" cy="411.8" r="1.35"/><circle cx="400.5" cy="410.1" r="1.35"/><circle cx="401.6" cy="412.6" r="1.35"/><circle cx="393.5" cy="412.6" r="1.35"/><circle cx="377.2" cy="415.5" r="1.35"/><circle cx="378.3" cy="417.5" r="1.35"/><circle cx="372.3" cy="423.7" r="1.35"/><circle cx="458.8" cy="284.4" r="1.35"/><circle cx="463.2" cy="291.0" r="1.35"/><circle cx="426.4" cy="297.0" r="1.35"/><circle cx="437.4" cy="300.3" r="1.35"/><circle cx="450.1" cy="302.7" r="1.35"/><circle cx="467.2" cy="309.8" r="1.35"/><circle cx="473.5" cy="308.7" r="1.35"/><circle cx="469.6" cy="317.6" r="1.35"/><circle cx="479.7" cy="318.0" r="1.35"/><circle cx="451.8" cy="320.4" r="1.35"/><circle cx="456.4" cy="320.4" r="1.35"/><circle cx="469.6" cy="321.9" r="1.35"/><circle cx="472.2" cy="323.7" r="1.35"/><circle cx="462.1" cy="325.5" r="1.35"/><circle cx="466.6" cy="327.2" r="1.35"/><circle cx="477.1" cy="327.6" r="1.35"/><circle cx="445.3" cy="327.2" r="1.35"/><circle cx="436.3" cy="330.9" r="1.35"/><circle cx="438.4" cy="331.4" r="1.35"/><circle cx="449.4" cy="332.5" r="1.35"/><circle cx="461.5" cy="330.9" r="1.35"/><circle cx="482.0" cy="304.3" r="1.35"/><circle cx="508.2" cy="302.1" r="1.35"/><circle cx="514.2" cy="304.8" r="1.35"/><circle cx="503.6" cy="308.6" r="1.35"/><circle cx="512.7" cy="307.9" r="1.35"/><circle cx="513.0" cy="309.5" r="1.35"/><circle cx="505.4" cy="312.1" r="1.35"/><circle cx="482.6" cy="319.2" r="1.35"/><circle cx="499.3" cy="317.7" r="1.35"/><circle cx="504.8" cy="319.2" r="1.35"/><circle cx="508.7" cy="317.4" r="1.35"/><circle cx="510.6" cy="321.3" r="1.35"/><circle cx="514.5" cy="323.1" r="1.35"/><circle cx="523.3" cy="321.4" r="1.35"/><circle cx="525.5" cy="322.2" r="1.35"/><circle cx="534.3" cy="321.0" r="1.35"/><circle cx="506.3" cy="326.5" r="1.35"/><circle cx="506.4" cy="328.0" r="1.35"/><circle cx="497.9" cy="328.1" r="1.35"/><circle cx="484.9" cy="328.9" r="1.35"/><circle cx="481.4" cy="330.4" r="1.35"/><circle cx="522.1" cy="325.9" r="1.35"/><circle cx="526.5" cy="327.7" r="1.35"/><circle cx="530.6" cy="327.7" r="1.35"/><circle cx="533.8" cy="326.5" r="1.35"/><circle cx="515.8" cy="328.9" r="1.35"/><circle cx="522.1" cy="329.2" r="1.35"/><circle cx="523.1" cy="330.4" r="1.35"/><circle cx="517.6" cy="331.6" r="1.35"/><circle cx="527.9" cy="330.8" r="1.35"/><circle cx="528.9" cy="331.6" r="1.35"/><circle cx="532.8" cy="332.0" r="1.35"/><circle cx="536.2" cy="331.1" r="1.35"/><circle cx="524.0" cy="332.6" r="1.35"/><circle cx="512.1" cy="332.6" r="1.35"/><circle cx="513.9" cy="333.2" r="1.35"/><circle cx="492.6" cy="332.8" r="1.35"/><circle cx="495.1" cy="334.1" r="1.35"/><circle cx="451.9" cy="335.4" r="1.35"/><circle cx="420.0" cy="336.3" r="1.35"/><circle cx="428.6" cy="336.3" r="1.35"/><circle cx="465.6" cy="336.3" r="1.35"/><circle cx="469.6" cy="338.9" r="1.35"/><circle cx="478.8" cy="337.5" r="1.35"/><circle cx="429.0" cy="341.9" r="1.35"/><circle cx="431.5" cy="342.2" r="1.35"/><circle cx="462.3" cy="340.7" r="1.35"/><circle cx="463.5" cy="342.2" r="1.35"/><circle cx="467.0" cy="343.9" r="1.35"/><circle cx="460.9" cy="344.8" r="1.35"/><circle cx="436.0" cy="345.8" r="1.35"/><circle cx="438.4" cy="345.8" r="1.35"/><circle cx="441.6" cy="347.4" r="1.35"/><circle cx="438.6" cy="349.3" r="1.35"/><circle cx="442.0" cy="349.3" r="1.35"/><circle cx="431.0" cy="349.3" r="1.35"/><circle cx="449.3" cy="347.8" r="1.35"/><circle cx="468.2" cy="347.0" r="1.35"/><circle cx="471.5" cy="347.4" r="1.35"/><circle cx="460.5" cy="349.5" r="1.35"/><circle cx="446.7" cy="352.1" r="1.35"/><circle cx="450.7" cy="351.3" r="1.35"/><circle cx="452.2" cy="351.7" r="1.35"/><circle cx="453.4" cy="352.5" r="1.35"/><circle cx="463.2" cy="352.5" r="1.35"/><circle cx="479.4" cy="351.9" r="1.35"/><circle cx="420.7" cy="354.6" r="1.35"/><circle cx="432.5" cy="354.9" r="1.35"/><circle cx="461.7" cy="355.7" r="1.35"/><circle cx="442.8" cy="358.8" r="1.35"/><circle cx="478.8" cy="359.2" r="1.35"/><circle cx="479.4" cy="361.4" r="1.35"/><circle cx="433.7" cy="362.6" r="1.35"/><circle cx="435.1" cy="361.6" r="1.35"/><circle cx="436.3" cy="362.3" r="1.35"/><circle cx="471.1" cy="360.2" r="1.35"/><circle cx="468.2" cy="362.3" r="1.35"/><circle cx="462.9" cy="362.8" r="1.35"/><circle cx="445.5" cy="364.7" r="1.35"/><circle cx="426.2" cy="365.5" r="1.35"/><circle cx="420.0" cy="367.3" r="1.35"/><circle cx="459.3" cy="365.5" r="1.35"/><circle cx="458.1" cy="367.0" r="1.35"/><circle cx="459.9" cy="367.3" r="1.35"/><circle cx="457.6" cy="368.2" r="1.35"/><circle cx="461.1" cy="369.1" r="1.35"/><circle cx="473.5" cy="368.5" r="1.35"/><circle cx="420.0" cy="371.1" r="1.35"/><circle cx="424.2" cy="371.1" r="1.35"/><circle cx="436.0" cy="371.4" r="1.35"/><circle cx="452.8" cy="371.4" r="1.35"/><circle cx="473.5" cy="371.7" r="1.35"/><circle cx="457.3" cy="373.2" r="1.35"/><circle cx="437.7" cy="374.4" r="1.35"/><circle cx="446.3" cy="375.0" r="1.35"/><circle cx="428.2" cy="376.1" r="1.35"/><circle cx="429.8" cy="377.7" r="1.35"/><circle cx="438.0" cy="376.7" r="1.35"/><circle cx="452.2" cy="375.8" r="1.35"/><circle cx="451.6" cy="377.7" r="1.35"/><circle cx="420.3" cy="378.5" r="1.35"/><circle cx="421.5" cy="380.9" r="1.35"/><circle cx="436.3" cy="379.7" r="1.35"/><circle cx="428.9" cy="382.6" r="1.35"/><circle cx="482.6" cy="336.4" r="1.35"/><circle cx="512.7" cy="337.3" r="1.35"/><circle cx="515.1" cy="336.7" r="1.35"/><circle cx="524.3" cy="335.2" r="1.35"/><circle cx="519.2" cy="337.6" r="1.35"/><circle cx="523.1" cy="339.1" r="1.35"/><circle cx="524.9" cy="339.7" r="1.35"/><circle cx="523.1" cy="341.3" r="1.35"/><circle cx="526.7" cy="341.5" r="1.35"/><circle cx="529.8" cy="340.6" r="1.35"/><circle cx="519.4" cy="342.7" r="1.35"/><circle cx="522.1" cy="344.6" r="1.35"/><circle cx="486.3" cy="341.3" r="1.35"/><circle cx="499.7" cy="339.3" r="1.35"/><circle cx="504.2" cy="338.8" r="1.35"/><circle cx="503.3" cy="342.1" r="1.35"/><circle cx="496.3" cy="343.4" r="1.35"/><circle cx="490.4" cy="345.4" r="1.35"/><circle cx="507.6" cy="346.2" r="1.35"/><circle cx="509.1" cy="348.2" r="1.35"/><circle cx="499.7" cy="348.6" r="1.35"/><circle cx="502.0" cy="351.0" r="1.35"/><circle cx="508.2" cy="351.0" r="1.35"/><circle cx="485.1" cy="351.9" r="1.35"/><circle cx="481.0" cy="354.9" r="1.35"/><circle cx="499.3" cy="353.1" r="1.35"/><circle cx="501.1" cy="355.5" r="1.35"/><circle cx="486.3" cy="357.4" r="1.35"/><circle cx="493.8" cy="360.0" r="1.35"/><circle cx="496.9" cy="361.6" r="1.35"/><circle cx="430.1" cy="385.3" r="1.35"/><circle cx="423.5" cy="385.9" r="1.35"/><circle cx="430.4" cy="388.5" r="1.35"/><circle cx="444.0" cy="389.5" r="1.35"/><circle cx="438.4" cy="393.4" r="1.35"/><circle cx="436.0" cy="396.3" r="1.35"/><circle cx="455.8" cy="396.9" r="1.35"/><circle cx="430.4" cy="402.2" r="1.35"/></g>
<path d="M484.7 278.5V313.2H544.3" fill="none" stroke="#666" stroke-width="1"/>
<line x1="317.6" y1="398.9" x2="544.3" y2="318.6" stroke="#585858" stroke-width="1.1"/>
<path d="M317.60 429.80V278.50M317.10 278.50H544.30V429.80" fill="none" stroke="#666" stroke-width="1"/>
<path d="M317.10 429.80H544.80" fill="none" stroke="#666" stroke-width="1.5"/>
<path d="M331.2 429.8v3.4M368.6 429.8v3.4M406.1 429.8v3.4M443.5 429.8v3.4M481.0 429.8v3.4M518.4 429.8v3.4M317.6 424.6h-3.6M317.6 402.9h-3.6M317.6 381.2h-3.6M317.6 359.5h-3.6M317.6 337.8h-3.6M317.6 316.1h-3.6M317.6 294.4h-3.6" stroke="#666" stroke-width="1" fill="none"/>
<text x="332.1" y="445.9" font-size="9.5" text-rendering="geometricPrecision" stroke="#000" stroke-width="0.15" text-anchor="middle">0.4</text>
<text x="369.5" y="445.9" font-size="9.5" text-rendering="geometricPrecision" stroke="#000" stroke-width="0.15" text-anchor="middle">0.5</text>
<text x="407.0" y="445.9" font-size="9.5" text-rendering="geometricPrecision" stroke="#000" stroke-width="0.15" text-anchor="middle">0.6</text>
<text x="444.4" y="445.9" font-size="9.5" text-rendering="geometricPrecision" stroke="#000" stroke-width="0.15" text-anchor="middle">0.7</text>
<text x="481.9" y="445.9" font-size="9.5" text-rendering="geometricPrecision" stroke="#000" stroke-width="0.15" text-anchor="middle">0.8</text>
<text x="519.3" y="445.9" font-size="9.5" text-rendering="geometricPrecision" stroke="#000" stroke-width="0.15" text-anchor="middle">0.9</text>
<text transform="translate(308.5 425.4) rotate(-90)" font-size="9.5" text-rendering="geometricPrecision" stroke="#000" stroke-width="0.15" text-anchor="middle">0.2</text>
<text transform="translate(308.5 403.7) rotate(-90)" font-size="9.5" text-rendering="geometricPrecision" stroke="#000" stroke-width="0.15" text-anchor="middle">0.3</text>
<text transform="translate(308.5 382.0) rotate(-90)" font-size="9.5" text-rendering="geometricPrecision" stroke="#000" stroke-width="0.15" text-anchor="middle">0.4</text>
<text transform="translate(308.5 360.3) rotate(-90)" font-size="9.5" text-rendering="geometricPrecision" stroke="#000" stroke-width="0.15" text-anchor="middle">0.5</text>
<text transform="translate(308.5 338.6) rotate(-90)" font-size="9.5" text-rendering="geometricPrecision" stroke="#000" stroke-width="0.15" text-anchor="middle">0.6</text>
<text transform="translate(308.5 316.9) rotate(-90)" font-size="9.5" text-rendering="geometricPrecision" stroke="#000" stroke-width="0.15" text-anchor="middle">0.7</text>
<text transform="translate(308.5 295.2) rotate(-90)" font-size="9.5" text-rendering="geometricPrecision" stroke="#000" stroke-width="0.15" text-anchor="middle">0.8</text>
<text x="388.40" y="271.70" font-size="10" stroke="#000" stroke-width="0.15" textLength="64.60" lengthAdjust="spacingAndGlyphs">cor=0.62, p=4.9</text>
<path d="M454.30 266.05L458.80 270.55M454.30 270.55L458.80 266.05" stroke="#222" stroke-width="0.95" fill="none"/>
<text x="461.20" y="271.70" font-size="9.8" stroke="#000" stroke-width="0.15" textLength="9.40" lengthAdjust="spacingAndGlyphs">10</text>
<text x="470.80" y="268.90" font-size="6.3" stroke="#000" stroke-width="0.15" textLength="9.90" lengthAdjust="spacingAndGlyphs">−33</text>
<text x="344.3" y="460.6" font-size="10" stroke="#000" stroke-width="0.22" textLength="174.2" lengthAdjust="spacingAndGlyphs">Module Membership in F−brown module</text>
<text transform="translate(290.5 430.3) rotate(-90)" font-size="10" stroke="#000" stroke-width="0.22" textLength="146.6" lengthAdjust="spacingAndGlyphs">Gene significance for Temperature</text>
</svg></body></html>
